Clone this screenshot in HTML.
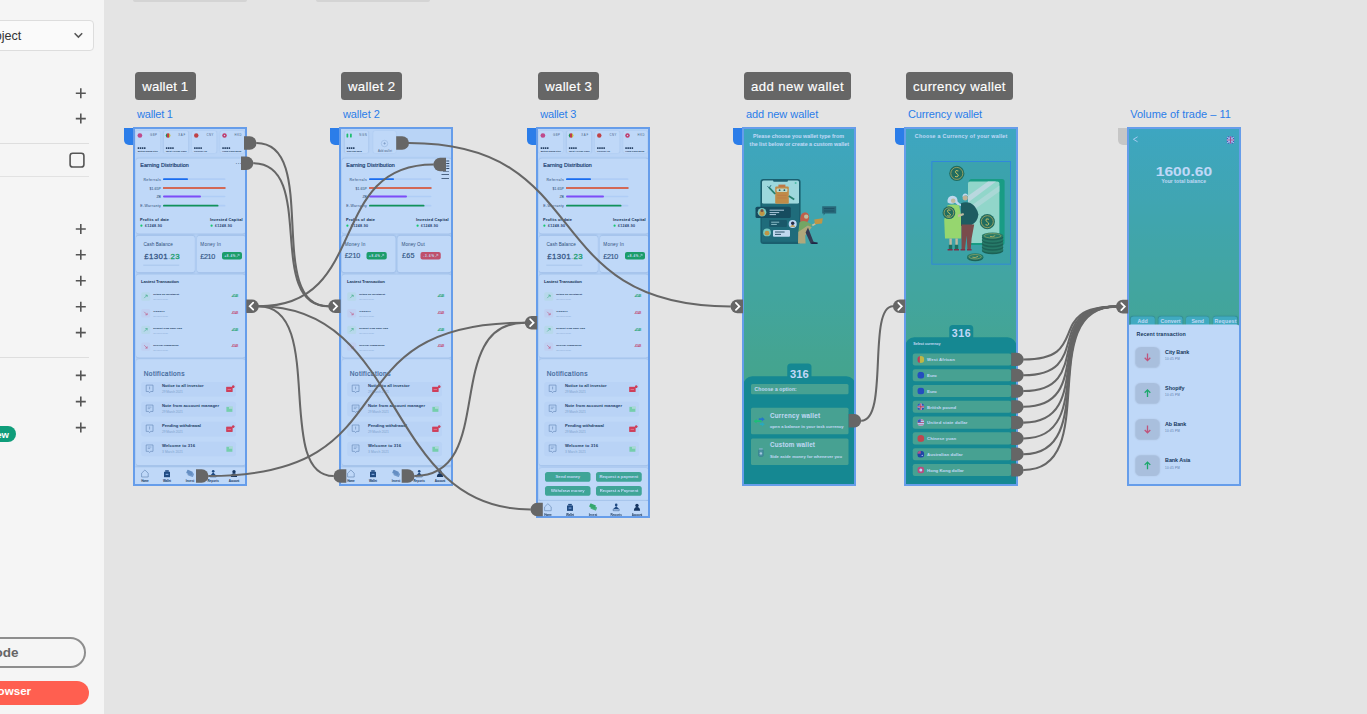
<!DOCTYPE html>
<html><head><meta charset="utf-8"><title>prototype</title>
<style>
html,body{margin:0;padding:0}
body{width:1367px;height:714px;overflow:hidden;position:relative;background:#e4e4e4;
font-family:"Liberation Sans",sans-serif;}
div{box-sizing:border-box}
svg{position:absolute;left:0;top:0;overflow:visible}
</style></head><body>
<div style="position:absolute;left:0px;top:0px;width:104px;height:714px;background:#f5f5f5;"></div>
<div style="position:absolute;left:-20px;top:20px;width:114px;height:31px;background:#fafafa;border:1px solid #dddddd;border-radius:4px;"></div>
<div style="position:absolute;top:29.6px;font-size:12.6px;line-height:12.6px;color:#333;white-space:nowrap;right:1345.7px;">oject</div>
<div style="position:absolute;left:0px;top:143px;width:89px;height:1px;background:#dedede;"></div>
<div style="position:absolute;left:0px;top:176px;width:89px;height:1px;background:#e2e2e2;"></div>
<div style="position:absolute;left:0px;top:357px;width:89px;height:1px;background:#dedede;"></div>
<div style="position:absolute;left:-10px;top:426px;width:26px;height:16px;background:#0f9d7a;border-radius:8px;"></div>
<div style="position:absolute;top:429.85px;font-size:9.5px;line-height:9.5px;color:#fff;white-space:nowrap;font-weight:bold;right:1358px;">ew</div>
<div style="position:absolute;left:-30px;top:637px;width:116px;height:31px;border:2px solid #8e8e8e;border-radius:16px;background:#f5f5f5;"></div>
<div style="position:absolute;top:646.15px;font-size:13.5px;line-height:13.5px;color:#666;white-space:nowrap;font-weight:bold;right:1348.4px;">ode</div>
<div style="position:absolute;left:-30px;top:681px;width:119px;height:24px;background:#ff5f50;border-radius:12px;"></div>
<div style="position:absolute;top:684.7px;font-size:11.6px;line-height:11.6px;color:#fff;white-space:nowrap;font-weight:bold;right:1335.9px;">rowser</div>
<svg width="104" height="714" viewBox="0 0 104 714"><path d="M75.8 93.3h10M80.8 88.3v10" stroke="#555" stroke-width="1.6" fill="none"/><path d="M75.8 118.6h10M80.8 113.6v10" stroke="#555" stroke-width="1.6" fill="none"/><path d="M75.8 229h10M80.8 224v10" stroke="#555" stroke-width="1.6" fill="none"/><path d="M75.8 254.7h10M80.8 249.7v10" stroke="#555" stroke-width="1.6" fill="none"/><path d="M75.8 280.8h10M80.8 275.8v10" stroke="#555" stroke-width="1.6" fill="none"/><path d="M75.8 306.7h10M80.8 301.7v10" stroke="#555" stroke-width="1.6" fill="none"/><path d="M75.8 332.6h10M80.8 327.6v10" stroke="#555" stroke-width="1.6" fill="none"/><path d="M75.8 375.4h10M80.8 370.4v10" stroke="#555" stroke-width="1.6" fill="none"/><path d="M75.8 401.6h10M80.8 396.6v10" stroke="#555" stroke-width="1.6" fill="none"/><path d="M75.8 427.6h10M80.8 422.6v10" stroke="#555" stroke-width="1.6" fill="none"/><path d="M74.6 33.2l3.8 3.9l3.8-3.9" stroke="#555" stroke-width="1.5" fill="none"/><rect x="70.1" y="153.2" width="13.8" height="13.8" rx="2.6" fill="none" stroke="#555" stroke-width="1.6"/></svg>
<div style="position:absolute;left:133px;top:-2px;width:114px;height:3.6px;background:#d4d4d4;border-radius:2px;"></div>
<div style="position:absolute;left:316px;top:-2px;width:114px;height:3.6px;background:#d4d4d4;border-radius:2px;"></div>
<div style="position:absolute;left:135px;top:72px;width:61px;height:28px;background:#666;border-radius:3.5px;"></div>
<div style="position:absolute;top:80.3px;font-size:13.2px;line-height:13.2px;color:#fff;white-space:nowrap;letter-spacing:0.18px;-webkit-text-stroke:0.15px #fff;left:142.2px;">wallet 1</div>
<div style="position:absolute;left:341px;top:72px;width:61px;height:28px;background:#666;border-radius:3.5px;"></div>
<div style="position:absolute;top:80.3px;font-size:13.2px;line-height:13.2px;color:#fff;white-space:nowrap;letter-spacing:0.35px;-webkit-text-stroke:0.15px #fff;left:348px;">wallet 2</div>
<div style="position:absolute;left:537.7px;top:72px;width:61.5px;height:28px;background:#666;border-radius:3.5px;"></div>
<div style="position:absolute;top:80.3px;font-size:13.2px;line-height:13.2px;color:#fff;white-space:nowrap;letter-spacing:0.29px;-webkit-text-stroke:0.15px #fff;left:545.2px;">wallet 3</div>
<div style="position:absolute;left:743.7px;top:72px;width:107.2px;height:28px;background:#666;border-radius:3.5px;"></div>
<div style="position:absolute;top:80.3px;font-size:13.2px;line-height:13.2px;color:#fff;white-space:nowrap;letter-spacing:0.42px;-webkit-text-stroke:0.15px #fff;left:750.9px;">add new wallet</div>
<div style="position:absolute;left:905.9px;top:72px;width:107.2px;height:28px;background:#666;border-radius:3.5px;"></div>
<div style="position:absolute;top:80.3px;font-size:13.2px;line-height:13.2px;color:#fff;white-space:nowrap;letter-spacing:0.32px;-webkit-text-stroke:0.15px #fff;left:913.1px;">currency wallet</div>
<div style="position:absolute;top:109.1px;font-size:11px;line-height:11px;color:#2b7de9;white-space:nowrap;letter-spacing:-0.2px;left:137.1px;">wallet 1</div>
<div style="position:absolute;top:109.1px;font-size:11px;line-height:11px;color:#2b7de9;white-space:nowrap;letter-spacing:-0.06px;left:342.9px;">wallet 2</div>
<div style="position:absolute;top:109.1px;font-size:11px;line-height:11px;color:#2b7de9;white-space:nowrap;letter-spacing:-0.17px;left:540.2px;">wallet 3</div>
<div style="position:absolute;top:109.1px;font-size:11px;line-height:11px;color:#2b7de9;white-space:nowrap;letter-spacing:-0.03px;left:745.9px;">add new wallet</div>
<div style="position:absolute;top:109.1px;font-size:11px;line-height:11px;color:#2b7de9;white-space:nowrap;letter-spacing:-0.11px;left:907.9px;">Currency wallet</div>
<div style="position:absolute;top:109.1px;font-size:11px;line-height:11px;color:#2b7de9;white-space:nowrap;letter-spacing:-0.01px;left:1130.3px;">Volume of trade – 11</div>
<div style="position:absolute;left:124px;top:128px;width:11px;height:16.8px;background:#2b7de9;border-radius:0 0 0 5px;"></div>
<div style="position:absolute;left:133px;top:127px;width:114px;height:359px;overflow:hidden;background:#fff;"><div style="position:absolute;left:0;top:0;width:456px;height:1436px;transform:scale(0.25);transform-origin:0 0;"><div style="position:absolute;left:-532px;top:-508px;width:5468px;height:2856px;"><div style="position:absolute;left:528px;top:504px;width:468px;height:1452px;background:#f6f9fd;"></div>
<div style="position:absolute;left:542.4px;top:524px;width:97.6px;height:88px;background:#fff;border-radius:8px;box-shadow:0 0 6px rgba(80,110,160,.16);"></div>
<div style="position:absolute;left:550.4px;top:532.8px;width:18.4px;height:18.4px;background:#ff3464;border-radius:50%;"></div>
<div style="position:absolute;top:534.8px;font-size:11.2px;line-height:11.2px;color:#555;white-space:nowrap;letter-spacing:2.16px;left:600px;">GBP</div>
<svg width="5468" height="2856" viewBox="0 0 1367 714"><rect x="137.70" y="147.35" width="1.5" height="1.5" fill="#05080f"/><rect x="139.80" y="147.35" width="1.5" height="1.5" fill="#05080f"/><rect x="141.90" y="147.35" width="1.5" height="1.5" fill="#05080f"/><rect x="144.00" y="147.35" width="1.5" height="1.5" fill="#05080f"/></svg>
<div style="position:absolute;top:600.2px;font-size:9.2px;line-height:9.2px;color:#111;white-space:nowrap;font-weight:bold;letter-spacing:-0.04px;left:550.8px;">British pound sterl</div>
<div style="position:absolute;left:655.2px;top:524px;width:97.6px;height:88px;background:#fff;border-radius:8px;box-shadow:0 0 6px rgba(80,110,160,.16);"></div>
<div style="position:absolute;left:663.2px;top:532.8px;width:18.4px;height:18.4px;background:linear-gradient(90deg,#189214 0 36%,#ff2300 36% 66%,#ffda00 66%);border-radius:50%;"></div>
<div style="position:absolute;top:534.8px;font-size:11.2px;line-height:11.2px;color:#555;white-space:nowrap;letter-spacing:3.12px;left:712.8px;">XAF</div>
<svg width="5468" height="2856" viewBox="0 0 1367 714"><rect x="165.90" y="147.35" width="1.5" height="1.5" fill="#05080f"/><rect x="168.00" y="147.35" width="1.5" height="1.5" fill="#05080f"/><rect x="170.10" y="147.35" width="1.5" height="1.5" fill="#05080f"/><rect x="172.20" y="147.35" width="1.5" height="1.5" fill="#05080f"/></svg>
<div style="position:absolute;top:600.2px;font-size:9.2px;line-height:9.2px;color:#111;white-space:nowrap;font-weight:bold;letter-spacing:0.16px;left:663.6px;">West African franc</div>
<div style="position:absolute;left:768px;top:524px;width:97.6px;height:88px;background:#fff;border-radius:8px;box-shadow:0 0 6px rgba(80,110,160,.16);"></div>
<div style="position:absolute;left:776px;top:532.8px;width:18.4px;height:18.4px;background:#ff2900;border-radius:50%;"></div>
<div style="position:absolute;top:534.8px;font-size:11.2px;line-height:11.2px;color:#555;white-space:nowrap;letter-spacing:2.16px;left:825.6px;">CNY</div>
<svg width="5468" height="2856" viewBox="0 0 1367 714"><rect x="194.10" y="147.35" width="1.5" height="1.5" fill="#05080f"/><rect x="196.20" y="147.35" width="1.5" height="1.5" fill="#05080f"/><rect x="198.30" y="147.35" width="1.5" height="1.5" fill="#05080f"/><rect x="200.40" y="147.35" width="1.5" height="1.5" fill="#05080f"/></svg>
<div style="position:absolute;top:600.2px;font-size:9.2px;line-height:9.2px;color:#111;white-space:nowrap;font-weight:bold;letter-spacing:0.28px;left:776.4px;">Chinese yu</div>
<div style="position:absolute;left:880.8px;top:524px;width:97.6px;height:88px;background:#fff;border-radius:8px;box-shadow:0 0 6px rgba(80,110,160,.16);"></div>
<div style="position:absolute;left:888.8px;top:532.8px;width:18.4px;height:18.4px;background:radial-gradient(circle,#fff 0 28%,#ff1d36 32%);border-radius:50%;"></div>
<div style="position:absolute;top:534.8px;font-size:11.2px;line-height:11.2px;color:#555;white-space:nowrap;letter-spacing:2.16px;left:938.4px;">HKD</div>
<svg width="5468" height="2856" viewBox="0 0 1367 714"><rect x="222.30" y="147.35" width="1.5" height="1.5" fill="#05080f"/><rect x="224.40" y="147.35" width="1.5" height="1.5" fill="#05080f"/><rect x="226.50" y="147.35" width="1.5" height="1.5" fill="#05080f"/><rect x="228.60" y="147.35" width="1.5" height="1.5" fill="#05080f"/></svg>
<div style="position:absolute;top:600.2px;font-size:9.2px;line-height:9.2px;color:#111;white-space:nowrap;font-weight:bold;letter-spacing:-0.04px;left:889.2px;">Hong Kong dollar</div>
<div style="position:absolute;left:544px;top:634.4px;width:437.6px;height:299.2px;background:#fff;border-radius:12px;box-shadow:0 0 8px rgba(80,110,160,.28);"></div>
<div style="position:absolute;top:651.2px;font-size:21.6px;line-height:21.6px;color:#1c2a40;white-space:nowrap;letter-spacing:0.28px;-webkit-text-stroke:0.88px #1c2a40;left:561.2px;">Earning Distribution</div>
<div style="position:absolute;top:641px;font-size:18px;line-height:18px;color:#333;white-space:nowrap;font-weight:bold;letter-spacing:3.48px;left:943.2px;">...</div>
<div style="position:absolute;top:710.6px;font-size:14px;line-height:14px;color:#232a36;white-space:nowrap;letter-spacing:1.6px;left:573.6px;">Referrals</div>
<div style="position:absolute;left:652px;top:713px;width:250px;height:6.8px;background:#e9f0fc;border-radius:4px;"></div>
<div style="position:absolute;left:652px;top:712.8px;width:100px;height:7.2px;background:#1366f3;border-radius:4px;"></div>
<div style="position:absolute;top:746.2px;font-size:14px;line-height:14px;color:#232a36;white-space:nowrap;letter-spacing:0.08px;left:598.4px;">$1.65P</div>
<div style="position:absolute;left:652px;top:748.6px;width:250px;height:6.8px;background:#e9f0fc;border-radius:4px;"></div>
<div style="position:absolute;left:652px;top:748.4px;width:250px;height:7.2px;background:#ff5609;border-radius:4px;"></div>
<div style="position:absolute;top:780.2px;font-size:14px;line-height:14px;color:#232a36;white-space:nowrap;letter-spacing:-1.08px;left:626.4px;">ZB</div>
<div style="position:absolute;left:652px;top:782.6px;width:250px;height:6.8px;background:#e9f0fc;border-radius:4px;"></div>
<div style="position:absolute;left:652px;top:782.4px;width:152px;height:7.2px;background:#9f38ff;border-radius:4px;"></div>
<div style="position:absolute;top:816.6px;font-size:14px;line-height:14px;color:#232a36;white-space:nowrap;letter-spacing:1.32px;left:561.2px;">E-Warranty</div>
<div style="position:absolute;left:652px;top:819px;width:250px;height:6.8px;background:#e9f0fc;border-radius:4px;"></div>
<div style="position:absolute;left:652px;top:818.8px;width:222px;height:7.2px;background:#079b1e;border-radius:4px;"></div>
<div style="position:absolute;top:872.2px;font-size:15.6px;line-height:15.6px;color:#000;white-space:nowrap;font-weight:bold;letter-spacing:0.8px;left:560px;">Profits of date</div>
<svg width="5468" height="2856" viewBox="0 0 1367 714"><circle cx="141.4" cy="225.7" r="1.1" fill="#0de83c"/></svg>
<div style="position:absolute;top:896.8px;font-size:14.4px;line-height:14.4px;color:#1c2430;white-space:nowrap;font-weight:bold;letter-spacing:1.12px;left:580px;">£1248.90</div>
<div style="position:absolute;top:872.2px;font-size:15.6px;line-height:15.6px;color:#000;white-space:nowrap;font-weight:bold;letter-spacing:0.72px;left:840px;">Invested Capital</div>
<svg width="5468" height="2856" viewBox="0 0 1367 714"><circle cx="211.6" cy="225.7" r="1.1" fill="#0de83c"/></svg>
<div style="position:absolute;top:896.8px;font-size:14.4px;line-height:14.4px;color:#1c2430;white-space:nowrap;font-weight:bold;letter-spacing:1.12px;left:860px;">£1248.90</div>
<div style="position:absolute;left:544px;top:942.8px;width:235.2px;height:146.4px;background:#fff;border-radius:12px;box-shadow:0 0 8px rgba(80,110,160,.28);"></div>
<div style="position:absolute;left:788px;top:942.8px;width:193.6px;height:146.4px;background:#fff;border-radius:12px;box-shadow:0 0 8px rgba(80,110,160,.28);"></div>
<div style="position:absolute;top:969px;font-size:18.8px;line-height:18.8px;color:#343c4a;white-space:nowrap;letter-spacing:0.04px;left:573.6px;">Cash Balance</div>
<div style="position:absolute;left:577.2px;top:1006.8px;font-size:31.6px;line-height:36px;white-space:nowrap;color:#3a4659;letter-spacing:1.36px;-webkit-text-stroke:1.12px #3a4659;">£1301<span style="color:#7f8a9b;-webkit-text-stroke:0">.</span><span style="color:#16ab34;-webkit-text-stroke:1.2px #16ab34;">23</span></div>
<div style="position:absolute;left:572.8px;top:1059.2px;width:144px;height:3.2px;background:#d4dbe8;"></div>
<div style="position:absolute;top:969px;font-size:18.8px;line-height:18.8px;color:#343c4a;white-space:nowrap;letter-spacing:0.68px;left:801.2px;">Money In</div>
<div style="position:absolute;top:1009.6px;font-size:28.8px;line-height:28.8px;color:#333f52;white-space:nowrap;letter-spacing:-1.48px;-webkit-text-stroke:0.6px #333f52;left:801.2px;">£210</div>
<div style="position:absolute;left:887.6px;top:1008.4px;width:80.8px;height:29.2px;background:#16ab34;border-radius:8px;"></div>
<div style="position:absolute;top:1018.4px;font-size:12px;line-height:12px;color:#fff;white-space:nowrap;font-weight:bold;letter-spacing:2.32px;left:898px;">+8.4%</div>
<svg width="5468" height="2856" viewBox="0 0 1367 714"><path d="M236.5 257.2l2.6-2.8m-1.6 0h1.6v1.6" stroke="#fff" stroke-width=".5" fill="none"/></svg>
<div style="position:absolute;left:544px;top:1098.4px;width:437.6px;height:331.2px;background:#fff;border-radius:12px;box-shadow:0 0 8px rgba(80,110,160,.28);"></div>
<div style="position:absolute;top:1118.6px;font-size:17.2px;line-height:17.2px;color:#111;white-space:nowrap;font-weight:bold;letter-spacing:-0.52px;left:563.6px;">Lastest Transaction</div>
<div style="position:absolute;left:564.8px;top:1169.2px;width:36px;height:33.6px;background:#f4ffed;border-radius:6.4px;"></div>
<div style="position:absolute;top:1173.2px;font-size:9.6px;line-height:9.6px;color:#000;white-space:nowrap;font-weight:bold;letter-spacing:0.24px;left:612.8px;">Return on investment</div>
<div style="position:absolute;top:1194.4px;font-size:8.8px;line-height:8.8px;color:#b9c2d0;white-space:nowrap;letter-spacing:0px;left:612.8px;">25 March 2021</div>
<div style="position:absolute;top:1178.8px;font-size:12px;line-height:12px;color:#0daf2b;white-space:nowrap;letter-spacing:-1.72px;-webkit-text-stroke:0.32px #0daf2b;left:925.6px;">+£148</div>
<div style="position:absolute;left:564.8px;top:1236px;width:36px;height:33.6px;background:#fff4f6;border-radius:6.4px;"></div>
<div style="position:absolute;top:1240px;font-size:9.6px;line-height:9.6px;color:#000;white-space:nowrap;font-weight:bold;letter-spacing:1.16px;left:612.8px;">Transfer</div>
<div style="position:absolute;top:1261.2px;font-size:8.8px;line-height:8.8px;color:#b9c2d0;white-space:nowrap;letter-spacing:0px;left:612.8px;">25 March 2021</div>
<div style="position:absolute;top:1245.6px;font-size:12px;line-height:12px;color:#ff1228;white-space:nowrap;letter-spacing:-0.96px;-webkit-text-stroke:0.32px #ff1228;left:925.6px;">-£148</div>
<div style="position:absolute;left:564.8px;top:1302.8px;width:36px;height:33.6px;background:#f4ffed;border-radius:6.4px;"></div>
<div style="position:absolute;top:1306.8px;font-size:9.6px;line-height:9.6px;color:#000;white-space:nowrap;font-weight:bold;letter-spacing:0.4px;left:612.8px;">Deposit from bank card</div>
<div style="position:absolute;top:1328px;font-size:8.8px;line-height:8.8px;color:#b9c2d0;white-space:nowrap;letter-spacing:0px;left:612.8px;">25 March 2021</div>
<div style="position:absolute;top:1312.4px;font-size:12px;line-height:12px;color:#0daf2b;white-space:nowrap;letter-spacing:-1.72px;-webkit-text-stroke:0.32px #0daf2b;left:925.6px;">+£148</div>
<div style="position:absolute;left:564.8px;top:1369.6px;width:36px;height:33.6px;background:#fff4f6;border-radius:6.4px;"></div>
<div style="position:absolute;top:1373.6px;font-size:9.6px;line-height:9.6px;color:#000;white-space:nowrap;font-weight:bold;letter-spacing:0.36px;left:612.8px;">Referral commission</div>
<div style="position:absolute;top:1394.8px;font-size:8.8px;line-height:8.8px;color:#b9c2d0;white-space:nowrap;letter-spacing:0px;left:612.8px;">25 March 2021</div>
<div style="position:absolute;top:1379.2px;font-size:12px;line-height:12px;color:#ff1228;white-space:nowrap;letter-spacing:-0.96px;-webkit-text-stroke:0.32px #ff1228;left:925.6px;">-£148</div>
<svg width="5468" height="2856" viewBox="0 0 1367 714"><path d="M144.2 298.1l3-3m-1.9 0h1.9v1.9" stroke="#0daf2b" stroke-width=".45" fill="none"/><path d="M144.2 311.8l3 3m-1.9 0h1.9v-1.9" stroke="#ff1228" stroke-width=".45" fill="none"/><path d="M144.2 331.5l3-3m-1.9 0h1.9v1.9" stroke="#0daf2b" stroke-width=".45" fill="none"/><path d="M144.2 345.2l3 3m-1.9 0h1.9v-1.9" stroke="#ff1228" stroke-width=".45" fill="none"/></svg>
<div style="position:absolute;left:544px;top:1436.8px;width:437.6px;height:424px;background:#fff;border-radius:12px;box-shadow:0 0 8px rgba(80,110,160,.28);"></div>
<div style="position:absolute;top:1480.6px;font-size:26px;line-height:26px;color:#4e5f7a;white-space:nowrap;letter-spacing:1.76px;-webkit-text-stroke:0.88px #4e5f7a;left:574.8px;">Notifications</div>
<div style="position:absolute;left:564.8px;top:1527.6px;width:378.8px;height:58.4px;background:#f6f8fc;border-radius:10px;"></div>
<div style="position:absolute;top:1535.6px;font-size:16.8px;line-height:16.8px;color:#151b26;white-space:nowrap;font-weight:bold;letter-spacing:0.08px;left:647.6px;">Notice to all investor</div>
<div style="position:absolute;top:1561px;font-size:13.2px;line-height:13.2px;color:#a7b2c3;white-space:nowrap;letter-spacing:-0.36px;left:648px;">29 March 2021</div>
<div style="position:absolute;left:564.8px;top:1607.4px;width:378.8px;height:58.4px;background:#f6f8fc;border-radius:10px;"></div>
<div style="position:absolute;top:1615.4px;font-size:16.8px;line-height:16.8px;color:#151b26;white-space:nowrap;font-weight:bold;letter-spacing:0.24px;left:647.6px;">Note from account manager</div>
<div style="position:absolute;top:1640.8px;font-size:13.2px;line-height:13.2px;color:#a7b2c3;white-space:nowrap;letter-spacing:-0.36px;left:648px;">29 March 2021</div>
<div style="position:absolute;left:564.8px;top:1687.2px;width:378.8px;height:58.4px;background:#f6f8fc;border-radius:10px;"></div>
<div style="position:absolute;top:1695.2px;font-size:16.8px;line-height:16.8px;color:#151b26;white-space:nowrap;font-weight:bold;letter-spacing:-0.08px;left:647.6px;">Pending withdrawal</div>
<div style="position:absolute;top:1720.6px;font-size:13.2px;line-height:13.2px;color:#a7b2c3;white-space:nowrap;letter-spacing:-0.36px;left:648px;">29 March 2021</div>
<div style="position:absolute;left:564.8px;top:1767px;width:378.8px;height:58.4px;background:#f6f8fc;border-radius:10px;"></div>
<div style="position:absolute;top:1775px;font-size:16.8px;line-height:16.8px;color:#151b26;white-space:nowrap;font-weight:bold;letter-spacing:0.44px;left:647.6px;">Welcome to 316</div>
<div style="position:absolute;top:1800.4px;font-size:13.2px;line-height:13.2px;color:#a7b2c3;white-space:nowrap;letter-spacing:0.28px;left:648px;">3 March 2021</div>
<svg width="5468" height="2856" viewBox="0 0 1367 714"><path d="M146.2 385.1h6.8v6.4h-2.4l-1 1.2l-1-1.2h-2.4z" stroke="#7787a0" stroke-width=".6" fill="none"/><path d="M149.6 386.6v2.4M149.6 389.6v.5" stroke="#7787a0" stroke-width=".6" fill="none"/><path d="M226.4 386.9h6v5h-6z" fill="#ff231d"/><circle cx="233.2" cy="386.7" r="1.2" fill="#ff231d"/><path d="M146.2 405.05h6.8v6.4h-2.4l-1 1.2l-1-1.2h-2.4z" stroke="#7787a0" stroke-width=".6" fill="none"/><path d="M147.8 407.15h3.6M147.8 408.65h2.4" stroke="#7787a0" stroke-width=".5" fill="none"/><path d="M226.4 406.85h6v5h-6z" fill="#96f192"/><path d="M229 406.45h4v2.4h-4z" fill="#e0ffcf"/><path d="M146.2 425h6.8v6.4h-2.4l-1 1.2l-1-1.2h-2.4z" stroke="#7787a0" stroke-width=".6" fill="none"/><path d="M149.6 426.5v2.4M149.6 429.5v.5" stroke="#7787a0" stroke-width=".6" fill="none"/><path d="M226.4 426.8h6v5h-6z" fill="#ff231d"/><circle cx="233.2" cy="426.6" r="1.2" fill="#ff231d"/><path d="M146.2 444.95h6.8v6.4h-2.4l-1 1.2l-1-1.2h-2.4z" stroke="#7787a0" stroke-width=".6" fill="none"/><path d="M147.8 447.05h3.6M147.8 448.55h2.4" stroke="#7787a0" stroke-width=".5" fill="none"/><path d="M226.4 446.75h6v5h-6z" fill="#96f192"/><path d="M229 446.35h4v2.4h-4z" fill="#e0ffcf"/></svg>
<div style="position:absolute;left:536px;top:1868.8px;width:452px;height:74px;background:#fff;box-shadow:0 0 8px rgba(80,110,160,.3);"></div>
<div style="position:absolute;top:1917.2px;font-size:12px;line-height:12px;color:#10161f;white-space:nowrap;font-weight:bold;letter-spacing:-1.24px;left:564.8px;">Home</div>
<div style="position:absolute;top:1917.2px;font-size:12px;line-height:12px;color:#10161f;white-space:nowrap;font-weight:bold;letter-spacing:-0.4px;left:651.6px;">Wallet</div>
<div style="position:absolute;top:1917.2px;font-size:12px;line-height:12px;color:#10161f;white-space:nowrap;font-weight:bold;letter-spacing:-0.04px;left:742.8px;">Invest</div>
<div style="position:absolute;top:1917.2px;font-size:12px;line-height:12px;color:#10161f;white-space:nowrap;font-weight:bold;letter-spacing:0.16px;left:829.6px;">Reports</div>
<div style="position:absolute;top:1917.2px;font-size:12px;line-height:12px;color:#10161f;white-space:nowrap;font-weight:bold;letter-spacing:-0.92px;left:914.8px;">Account</div>
<svg width="5468" height="2856" viewBox="0 0 1367 714"><path d="M141.6 473.2l3.3-3.2l3.3 3.2v3.8h-6.6z" stroke="#6f7f96" stroke-width=".6" fill="none"/><path d="M164 471.8h6v5.4h-6z" fill="#1c3557"/><path d="M165.2 470.2h3.6v1.6h-3.6z" fill="#1c3557"/><path d="M165.6 473.8h2.8v1.2h-2.8z" fill="#9db4d6"/><rect x="186" y="470.5" width="6" height="3.6" rx=".6" fill="#7f97b4" transform="rotate(22 189 473.8)"/><rect x="188" y="472.6" width="6" height="3.6" rx=".6" fill="#7f97b4" opacity=".85" transform="rotate(22 191 473.8)"/><circle cx="213.2" cy="471.2" r="1.3" fill="#1c3557"/><path d="M210.4 475.4l2.8-3.2l2.8 3.2z" fill="#1c3557"/><path d="M210.2 475.4h6v1.6h-6z" fill="none" stroke="#1c3557" stroke-width=".5"/><circle cx="234" cy="471.8" r="1.7" fill="#0d1626"/><path d="M230.9 477.1q0-3.8 3.1-3.8q3.1 0 3.1 3.8z" fill="#0d1626"/></svg></div></div><div style="position:absolute;left:0;top:0;width:114px;height:359px;background:rgba(43,125,233,0.30);"></div><div style="position:absolute;left:0;top:0;width:456px;height:1436px;transform:scale(0.25);transform-origin:0 0;"><div style="position:absolute;left:-532px;top:-508px;width:5468px;height:2856px;"><div style="position:absolute;left:652px;top:748.4px;width:250px;height:7.2px;background:rgb(211,105,86);border-radius:4px;"></div>
<svg width="5468" height="2856" viewBox="0 0 1367 714"><path d="M226.4 386.9h6v5h-6z" fill="rgb(208,62,90)"/><circle cx="233.2" cy="386.7" r="1.2" fill="rgb(208,62,90)"/><path d="M227.6 389.5h3.400" stroke="rgb(232,150,170)" stroke-width=".6"/></svg>
<svg width="5468" height="2856" viewBox="0 0 1367 714"><path d="M226.4 426.8h6v5h-6z" fill="rgb(208,62,90)"/><circle cx="233.2" cy="426.6" r="1.2" fill="rgb(208,62,90)"/><path d="M227.6 429.4h3.400" stroke="rgb(232,150,170)" stroke-width=".6"/></svg></div></div><div style="position:absolute;left:0;top:0;width:114px;height:359px;border:2px solid #669dea;"></div></div>
<div style="position:absolute;left:330px;top:128px;width:11px;height:16.8px;background:#2b7de9;border-radius:0 0 0 5px;"></div>
<div style="position:absolute;left:339px;top:127px;width:114px;height:359px;overflow:hidden;background:#fff;"><div style="position:absolute;left:0;top:0;width:456px;height:1436px;transform:scale(0.25);transform-origin:0 0;"><div style="position:absolute;left:-532px;top:-508px;width:5468px;height:2856px;"><div style="position:absolute;left:528px;top:504px;width:468px;height:1452px;background:#f6f9fd;"></div>
<div style="position:absolute;left:555.2px;top:524px;width:93.6px;height:88px;background:#fff;border-radius:8px;box-shadow:0 0 6px rgba(80,110,160,.16);"></div>
<div style="position:absolute;left:669.2px;top:524px;width:90.4px;height:88px;background:#fff;border-radius:8px;box-shadow:0 0 6px rgba(80,110,160,.16);"></div>
<div style="position:absolute;left:562px;top:533.6px;width:6.8px;height:16.8px;background:#16da39;border-radius:4px;"></div>
<div style="position:absolute;left:576px;top:533.6px;width:6.8px;height:16.8px;background:#16da39;border-radius:4px;"></div>
<div style="position:absolute;top:534.8px;font-size:11.2px;line-height:11.2px;color:#555;white-space:nowrap;letter-spacing:2.36px;left:613.2px;">NGN</div>
<svg width="5468" height="2856" viewBox="0 0 1367 714"><rect x="140.70" y="147.35" width="1.5" height="1.5" fill="#05080f"/><rect x="142.80" y="147.35" width="1.5" height="1.5" fill="#05080f"/><rect x="144.90" y="147.35" width="1.5" height="1.5" fill="#05080f"/><rect x="147.00" y="147.35" width="1.5" height="1.5" fill="#05080f"/></svg>
<div style="position:absolute;top:600.2px;font-size:9.2px;line-height:9.2px;color:#111;white-space:nowrap;font-weight:bold;letter-spacing:-0.04px;left:562.8px;">Nigerian naira</div>
<div style="position:absolute;left:700.4px;top:559.6px;width:28px;height:28px;border:2px solid #b9c4d4;border-radius:50%;"></div>
<svg width="5468" height="2856" viewBox="0 0 1367 714"><path d="M177.3 143.4h2.6M178.6 142.1v2.6" stroke="#7f8da3" stroke-width=".5"/></svg>
<div style="position:absolute;top:597.2px;font-size:11.2px;line-height:11.2px;color:#555;white-space:nowrap;letter-spacing:0.48px;left:688px;">Add wallet</div>
<div style="position:absolute;left:544px;top:634.4px;width:437.6px;height:299.2px;background:#fff;border-radius:12px;box-shadow:0 0 8px rgba(80,110,160,.28);"></div>
<div style="position:absolute;top:651.2px;font-size:21.6px;line-height:21.6px;color:#1c2a40;white-space:nowrap;letter-spacing:0.28px;-webkit-text-stroke:0.88px #1c2a40;left:561.2px;">Earning Distribution</div>
<div style="position:absolute;left:948.4px;top:684.6px;width:23.2px;height:2.8px;background:#222;"></div>
<div style="position:absolute;left:942.4px;top:695.8px;width:29.2px;height:2.8px;background:#222;"></div>
<div style="position:absolute;left:942.4px;top:712.2px;width:29.2px;height:2.8px;background:#222;"></div>
<div style="position:absolute;left:960.8px;top:642px;width:12px;height:3.6px;background:#333;"></div>
<div style="position:absolute;left:960.8px;top:652px;width:12px;height:3.6px;background:#333;"></div>
<div style="position:absolute;left:960.8px;top:662px;width:12px;height:3.6px;background:#333;"></div>
<div style="position:absolute;left:960.8px;top:672px;width:12px;height:3.6px;background:#333;"></div>
<div style="position:absolute;top:710.6px;font-size:14px;line-height:14px;color:#232a36;white-space:nowrap;letter-spacing:1.6px;left:573.6px;">Referrals</div>
<div style="position:absolute;left:652px;top:713px;width:250px;height:6.8px;background:#e9f0fc;border-radius:4px;"></div>
<div style="position:absolute;left:652px;top:712.8px;width:100px;height:7.2px;background:#1366f3;border-radius:4px;"></div>
<div style="position:absolute;top:746.2px;font-size:14px;line-height:14px;color:#232a36;white-space:nowrap;letter-spacing:0.08px;left:598.4px;">$1.65P</div>
<div style="position:absolute;left:652px;top:748.6px;width:250px;height:6.8px;background:#e9f0fc;border-radius:4px;"></div>
<div style="position:absolute;left:652px;top:748.4px;width:250px;height:7.2px;background:#ff5609;border-radius:4px;"></div>
<div style="position:absolute;top:780.2px;font-size:14px;line-height:14px;color:#232a36;white-space:nowrap;letter-spacing:-1.08px;left:626.4px;">ZB</div>
<div style="position:absolute;left:652px;top:782.6px;width:250px;height:6.8px;background:#e9f0fc;border-radius:4px;"></div>
<div style="position:absolute;left:652px;top:782.4px;width:152px;height:7.2px;background:#9f38ff;border-radius:4px;"></div>
<div style="position:absolute;top:816.6px;font-size:14px;line-height:14px;color:#232a36;white-space:nowrap;letter-spacing:1.32px;left:561.2px;">E-Warranty</div>
<div style="position:absolute;left:652px;top:819px;width:250px;height:6.8px;background:#e9f0fc;border-radius:4px;"></div>
<div style="position:absolute;left:652px;top:818.8px;width:222px;height:7.2px;background:#079b1e;border-radius:4px;"></div>
<div style="position:absolute;top:872.2px;font-size:15.6px;line-height:15.6px;color:#000;white-space:nowrap;font-weight:bold;letter-spacing:0.8px;left:560px;">Profits of date</div>
<svg width="5468" height="2856" viewBox="0 0 1367 714"><circle cx="141.4" cy="225.7" r="1.1" fill="#0de83c"/></svg>
<div style="position:absolute;top:896.8px;font-size:14.4px;line-height:14.4px;color:#1c2430;white-space:nowrap;font-weight:bold;letter-spacing:1.12px;left:580px;">£1248.90</div>
<div style="position:absolute;top:872.2px;font-size:15.6px;line-height:15.6px;color:#000;white-space:nowrap;font-weight:bold;letter-spacing:0.72px;left:840px;">Invested Capital</div>
<svg width="5468" height="2856" viewBox="0 0 1367 714"><circle cx="211.6" cy="225.7" r="1.1" fill="#0de83c"/></svg>
<div style="position:absolute;top:896.8px;font-size:14.4px;line-height:14.4px;color:#1c2430;white-space:nowrap;font-weight:bold;letter-spacing:1.12px;left:860px;">£1248.90</div>
<div style="position:absolute;left:543.2px;top:942.8px;width:214.4px;height:146.4px;background:#fff;border-radius:12px;box-shadow:0 0 8px rgba(80,110,160,.28);"></div>
<div style="position:absolute;left:766.4px;top:942.8px;width:214.4px;height:146.4px;background:#fff;border-radius:12px;box-shadow:0 0 8px rgba(80,110,160,.28);"></div>
<div style="position:absolute;top:968.6px;font-size:18.8px;line-height:18.8px;color:#343c4a;white-space:nowrap;letter-spacing:0.72px;left:554.8px;">Money In</div>
<div style="position:absolute;top:1009.2px;font-size:28.8px;line-height:28.8px;color:#333f52;white-space:nowrap;letter-spacing:-0.56px;-webkit-text-stroke:0.6px #333f52;left:554.8px;">£210</div>
<div style="position:absolute;left:642px;top:1008.4px;width:80.8px;height:29.2px;background:#16ab34;border-radius:8px;"></div>
<div style="position:absolute;top:1018.4px;font-size:12px;line-height:12px;color:#fff;white-space:nowrap;font-weight:bold;letter-spacing:2.32px;left:652.4px;">+8.4%</div>
<svg width="5468" height="2856" viewBox="0 0 1367 714"><path d="M175.1 257.2l2.6-2.8m-1.6 0h1.6v1.6" stroke="#fff" stroke-width=".5" fill="none"/></svg>
<div style="position:absolute;top:968.6px;font-size:18.8px;line-height:18.8px;color:#343c4a;white-space:nowrap;letter-spacing:0.12px;left:782px;">Money Out</div>
<div style="position:absolute;top:1009.2px;font-size:28.8px;line-height:28.8px;color:#333f52;white-space:nowrap;letter-spacing:0.76px;-webkit-text-stroke:0.6px #333f52;left:784px;">£65</div>
<div style="position:absolute;left:858.4px;top:1008.4px;width:80.8px;height:29.2px;background:#ff3d39;border-radius:8px;"></div>
<div style="position:absolute;top:1018.4px;font-size:12px;line-height:12px;color:#fff;white-space:nowrap;font-weight:bold;letter-spacing:3.08px;left:868.8px;">-3.6%</div>
<svg width="5468" height="2856" viewBox="0 0 1367 714"><path d="M229.2 257.2l2.6-2.8m-1.6 0h1.6v1.6" stroke="#fff" stroke-width=".5" fill="none"/></svg>
<div style="position:absolute;left:544px;top:1098.4px;width:437.6px;height:331.2px;background:#fff;border-radius:12px;box-shadow:0 0 8px rgba(80,110,160,.28);"></div>
<div style="position:absolute;top:1118.6px;font-size:17.2px;line-height:17.2px;color:#111;white-space:nowrap;font-weight:bold;letter-spacing:-0.52px;left:563.6px;">Lastest Transaction</div>
<div style="position:absolute;left:564.8px;top:1169.2px;width:36px;height:33.6px;background:#f4ffed;border-radius:6.4px;"></div>
<div style="position:absolute;top:1173.2px;font-size:9.6px;line-height:9.6px;color:#000;white-space:nowrap;font-weight:bold;letter-spacing:0.24px;left:612.8px;">Return on investment</div>
<div style="position:absolute;top:1194.4px;font-size:8.8px;line-height:8.8px;color:#b9c2d0;white-space:nowrap;letter-spacing:0px;left:612.8px;">25 March 2021</div>
<div style="position:absolute;top:1178.8px;font-size:12px;line-height:12px;color:#0daf2b;white-space:nowrap;letter-spacing:-1.72px;-webkit-text-stroke:0.32px #0daf2b;left:925.6px;">+£148</div>
<div style="position:absolute;left:564.8px;top:1236px;width:36px;height:33.6px;background:#fff4f6;border-radius:6.4px;"></div>
<div style="position:absolute;top:1240px;font-size:9.6px;line-height:9.6px;color:#000;white-space:nowrap;font-weight:bold;letter-spacing:1.16px;left:612.8px;">Transfer</div>
<div style="position:absolute;top:1261.2px;font-size:8.8px;line-height:8.8px;color:#b9c2d0;white-space:nowrap;letter-spacing:0px;left:612.8px;">25 March 2021</div>
<div style="position:absolute;top:1245.6px;font-size:12px;line-height:12px;color:#ff1228;white-space:nowrap;letter-spacing:-0.96px;-webkit-text-stroke:0.32px #ff1228;left:925.6px;">-£148</div>
<div style="position:absolute;left:564.8px;top:1302.8px;width:36px;height:33.6px;background:#f4ffed;border-radius:6.4px;"></div>
<div style="position:absolute;top:1306.8px;font-size:9.6px;line-height:9.6px;color:#000;white-space:nowrap;font-weight:bold;letter-spacing:0.4px;left:612.8px;">Deposit from bank card</div>
<div style="position:absolute;top:1328px;font-size:8.8px;line-height:8.8px;color:#b9c2d0;white-space:nowrap;letter-spacing:0px;left:612.8px;">25 March 2021</div>
<div style="position:absolute;top:1312.4px;font-size:12px;line-height:12px;color:#0daf2b;white-space:nowrap;letter-spacing:-1.72px;-webkit-text-stroke:0.32px #0daf2b;left:925.6px;">+£148</div>
<div style="position:absolute;left:564.8px;top:1369.6px;width:36px;height:33.6px;background:#fff4f6;border-radius:6.4px;"></div>
<div style="position:absolute;top:1373.6px;font-size:9.6px;line-height:9.6px;color:#000;white-space:nowrap;font-weight:bold;letter-spacing:0.36px;left:612.8px;">Referral commission</div>
<div style="position:absolute;top:1394.8px;font-size:8.8px;line-height:8.8px;color:#b9c2d0;white-space:nowrap;letter-spacing:0px;left:612.8px;">25 March 2021</div>
<div style="position:absolute;top:1379.2px;font-size:12px;line-height:12px;color:#ff1228;white-space:nowrap;letter-spacing:-0.96px;-webkit-text-stroke:0.32px #ff1228;left:925.6px;">-£148</div>
<svg width="5468" height="2856" viewBox="0 0 1367 714"><path d="M144.2 298.1l3-3m-1.9 0h1.9v1.9" stroke="#0daf2b" stroke-width=".45" fill="none"/><path d="M144.2 311.8l3 3m-1.9 0h1.9v-1.9" stroke="#ff1228" stroke-width=".45" fill="none"/><path d="M144.2 331.5l3-3m-1.9 0h1.9v1.9" stroke="#0daf2b" stroke-width=".45" fill="none"/><path d="M144.2 345.2l3 3m-1.9 0h1.9v-1.9" stroke="#ff1228" stroke-width=".45" fill="none"/></svg>
<div style="position:absolute;left:544px;top:1436.8px;width:437.6px;height:424px;background:#fff;border-radius:12px;box-shadow:0 0 8px rgba(80,110,160,.28);"></div>
<div style="position:absolute;top:1480.6px;font-size:26px;line-height:26px;color:#4e5f7a;white-space:nowrap;letter-spacing:1.76px;-webkit-text-stroke:0.88px #4e5f7a;left:574.8px;">Notifications</div>
<div style="position:absolute;left:564.8px;top:1527.6px;width:378.8px;height:58.4px;background:#f6f8fc;border-radius:10px;"></div>
<div style="position:absolute;top:1535.6px;font-size:16.8px;line-height:16.8px;color:#151b26;white-space:nowrap;font-weight:bold;letter-spacing:0.08px;left:647.6px;">Notice to all investor</div>
<div style="position:absolute;top:1561px;font-size:13.2px;line-height:13.2px;color:#a7b2c3;white-space:nowrap;letter-spacing:-0.36px;left:648px;">29 March 2021</div>
<div style="position:absolute;left:564.8px;top:1607.4px;width:378.8px;height:58.4px;background:#f6f8fc;border-radius:10px;"></div>
<div style="position:absolute;top:1615.4px;font-size:16.8px;line-height:16.8px;color:#151b26;white-space:nowrap;font-weight:bold;letter-spacing:0.24px;left:647.6px;">Note from account manager</div>
<div style="position:absolute;top:1640.8px;font-size:13.2px;line-height:13.2px;color:#a7b2c3;white-space:nowrap;letter-spacing:-0.36px;left:648px;">29 March 2021</div>
<div style="position:absolute;left:564.8px;top:1687.2px;width:378.8px;height:58.4px;background:#f6f8fc;border-radius:10px;"></div>
<div style="position:absolute;top:1695.2px;font-size:16.8px;line-height:16.8px;color:#151b26;white-space:nowrap;font-weight:bold;letter-spacing:-0.08px;left:647.6px;">Pending withdrawal</div>
<div style="position:absolute;top:1720.6px;font-size:13.2px;line-height:13.2px;color:#a7b2c3;white-space:nowrap;letter-spacing:-0.36px;left:648px;">29 March 2021</div>
<div style="position:absolute;left:564.8px;top:1767px;width:378.8px;height:58.4px;background:#f6f8fc;border-radius:10px;"></div>
<div style="position:absolute;top:1775px;font-size:16.8px;line-height:16.8px;color:#151b26;white-space:nowrap;font-weight:bold;letter-spacing:0.44px;left:647.6px;">Welcome to 316</div>
<div style="position:absolute;top:1800.4px;font-size:13.2px;line-height:13.2px;color:#a7b2c3;white-space:nowrap;letter-spacing:0.28px;left:648px;">3 March 2021</div>
<svg width="5468" height="2856" viewBox="0 0 1367 714"><path d="M146.2 385.1h6.8v6.4h-2.4l-1 1.2l-1-1.2h-2.4z" stroke="#7787a0" stroke-width=".6" fill="none"/><path d="M149.6 386.6v2.4M149.6 389.6v.5" stroke="#7787a0" stroke-width=".6" fill="none"/><path d="M226.4 386.9h6v5h-6z" fill="#ff231d"/><circle cx="233.2" cy="386.7" r="1.2" fill="#ff231d"/><path d="M146.2 405.05h6.8v6.4h-2.4l-1 1.2l-1-1.2h-2.4z" stroke="#7787a0" stroke-width=".6" fill="none"/><path d="M147.8 407.15h3.6M147.8 408.65h2.4" stroke="#7787a0" stroke-width=".5" fill="none"/><path d="M226.4 406.85h6v5h-6z" fill="#96f192"/><path d="M229 406.45h4v2.4h-4z" fill="#e0ffcf"/><path d="M146.2 425h6.8v6.4h-2.4l-1 1.2l-1-1.2h-2.4z" stroke="#7787a0" stroke-width=".6" fill="none"/><path d="M149.6 426.5v2.4M149.6 429.5v.5" stroke="#7787a0" stroke-width=".6" fill="none"/><path d="M226.4 426.8h6v5h-6z" fill="#ff231d"/><circle cx="233.2" cy="426.6" r="1.2" fill="#ff231d"/><path d="M146.2 444.95h6.8v6.4h-2.4l-1 1.2l-1-1.2h-2.4z" stroke="#7787a0" stroke-width=".6" fill="none"/><path d="M147.8 447.05h3.6M147.8 448.55h2.4" stroke="#7787a0" stroke-width=".5" fill="none"/><path d="M226.4 446.75h6v5h-6z" fill="#96f192"/><path d="M229 446.35h4v2.4h-4z" fill="#e0ffcf"/></svg>
<div style="position:absolute;left:536px;top:1868.8px;width:452px;height:74px;background:#fff;box-shadow:0 0 8px rgba(80,110,160,.3);"></div>
<div style="position:absolute;top:1917.2px;font-size:12px;line-height:12px;color:#10161f;white-space:nowrap;font-weight:bold;letter-spacing:-1.24px;left:564.8px;">Home</div>
<div style="position:absolute;top:1917.2px;font-size:12px;line-height:12px;color:#10161f;white-space:nowrap;font-weight:bold;letter-spacing:-0.4px;left:651.6px;">Wallet</div>
<div style="position:absolute;top:1917.2px;font-size:12px;line-height:12px;color:#10161f;white-space:nowrap;font-weight:bold;letter-spacing:-0.04px;left:742.8px;">Invest</div>
<div style="position:absolute;top:1917.2px;font-size:12px;line-height:12px;color:#10161f;white-space:nowrap;font-weight:bold;letter-spacing:0.16px;left:829.6px;">Reports</div>
<div style="position:absolute;top:1917.2px;font-size:12px;line-height:12px;color:#10161f;white-space:nowrap;font-weight:bold;letter-spacing:-0.92px;left:914.8px;">Account</div>
<svg width="5468" height="2856" viewBox="0 0 1367 714"><path d="M141.6 473.2l3.3-3.2l3.3 3.2v3.8h-6.6z" stroke="#6f7f96" stroke-width=".6" fill="none"/><path d="M164 471.8h6v5.4h-6z" fill="#1c3557"/><path d="M165.2 470.2h3.6v1.6h-3.6z" fill="#1c3557"/><path d="M165.6 473.8h2.8v1.2h-2.8z" fill="#9db4d6"/><rect x="186" y="470.5" width="6" height="3.6" rx=".6" fill="#7f97b4" transform="rotate(22 189 473.8)"/><rect x="188" y="472.6" width="6" height="3.6" rx=".6" fill="#7f97b4" opacity=".85" transform="rotate(22 191 473.8)"/><circle cx="213.2" cy="471.2" r="1.3" fill="#1c3557"/><path d="M210.4 475.4l2.8-3.2l2.8 3.2z" fill="#1c3557"/><path d="M210.2 475.4h6v1.6h-6z" fill="none" stroke="#1c3557" stroke-width=".5"/><circle cx="234" cy="471.8" r="1.7" fill="#0d1626"/><path d="M230.9 477.1q0-3.8 3.1-3.8q3.1 0 3.1 3.8z" fill="#0d1626"/></svg></div></div><div style="position:absolute;left:0;top:0;width:114px;height:359px;background:rgba(43,125,233,0.30);"></div><div style="position:absolute;left:0;top:0;width:456px;height:1436px;transform:scale(0.25);transform-origin:0 0;"><div style="position:absolute;left:-532px;top:-508px;width:5468px;height:2856px;"><div style="position:absolute;left:652px;top:748.4px;width:250px;height:7.2px;background:rgb(211,105,86);border-radius:4px;"></div>
<svg width="5468" height="2856" viewBox="0 0 1367 714"><path d="M226.4 386.9h6v5h-6z" fill="rgb(208,62,90)"/><circle cx="233.2" cy="386.7" r="1.2" fill="rgb(208,62,90)"/><path d="M227.6 389.5h3.400" stroke="rgb(232,150,170)" stroke-width=".6"/></svg>
<svg width="5468" height="2856" viewBox="0 0 1367 714"><path d="M226.4 426.8h6v5h-6z" fill="rgb(208,62,90)"/><circle cx="233.2" cy="426.6" r="1.2" fill="rgb(208,62,90)"/><path d="M227.6 429.4h3.400" stroke="rgb(232,150,170)" stroke-width=".6"/></svg></div></div><div style="position:absolute;left:0;top:0;width:114px;height:359px;border:2px solid #669dea;"></div></div>
<div style="position:absolute;left:527px;top:128px;width:11px;height:16.8px;background:#2b7de9;border-radius:0 0 0 5px;"></div>
<div style="position:absolute;left:536px;top:127px;width:114px;height:391px;overflow:hidden;background:#fff;"><div style="position:absolute;left:0;top:0;width:456px;height:1564px;transform:scale(0.25);transform-origin:0 0;"><div style="position:absolute;left:-532px;top:-508px;width:5468px;height:2856px;"><div style="position:absolute;left:528px;top:504px;width:468px;height:1580px;background:#f6f9fd;"></div>
<div style="position:absolute;left:542.4px;top:524px;width:97.6px;height:88px;background:#fff;border-radius:8px;box-shadow:0 0 6px rgba(80,110,160,.16);"></div>
<div style="position:absolute;left:550.4px;top:532.8px;width:18.4px;height:18.4px;background:#ff3464;border-radius:50%;"></div>
<div style="position:absolute;top:534.8px;font-size:11.2px;line-height:11.2px;color:#555;white-space:nowrap;letter-spacing:2.16px;left:600px;">GBP</div>
<svg width="5468" height="2856" viewBox="0 0 1367 714"><rect x="137.70" y="147.35" width="1.5" height="1.5" fill="#05080f"/><rect x="139.80" y="147.35" width="1.5" height="1.5" fill="#05080f"/><rect x="141.90" y="147.35" width="1.5" height="1.5" fill="#05080f"/><rect x="144.00" y="147.35" width="1.5" height="1.5" fill="#05080f"/></svg>
<div style="position:absolute;top:600.2px;font-size:9.2px;line-height:9.2px;color:#111;white-space:nowrap;font-weight:bold;letter-spacing:-0.04px;left:550.8px;">British pound sterl</div>
<div style="position:absolute;left:655.2px;top:524px;width:97.6px;height:88px;background:#fff;border-radius:8px;box-shadow:0 0 6px rgba(80,110,160,.16);"></div>
<div style="position:absolute;left:663.2px;top:532.8px;width:18.4px;height:18.4px;background:linear-gradient(90deg,#189214 0 36%,#ff2300 36% 66%,#ffda00 66%);border-radius:50%;"></div>
<div style="position:absolute;top:534.8px;font-size:11.2px;line-height:11.2px;color:#555;white-space:nowrap;letter-spacing:3.12px;left:712.8px;">XAF</div>
<svg width="5468" height="2856" viewBox="0 0 1367 714"><rect x="165.90" y="147.35" width="1.5" height="1.5" fill="#05080f"/><rect x="168.00" y="147.35" width="1.5" height="1.5" fill="#05080f"/><rect x="170.10" y="147.35" width="1.5" height="1.5" fill="#05080f"/><rect x="172.20" y="147.35" width="1.5" height="1.5" fill="#05080f"/></svg>
<div style="position:absolute;top:600.2px;font-size:9.2px;line-height:9.2px;color:#111;white-space:nowrap;font-weight:bold;letter-spacing:0.16px;left:663.6px;">West African franc</div>
<div style="position:absolute;left:768px;top:524px;width:97.6px;height:88px;background:#fff;border-radius:8px;box-shadow:0 0 6px rgba(80,110,160,.16);"></div>
<div style="position:absolute;left:776px;top:532.8px;width:18.4px;height:18.4px;background:#ff2900;border-radius:50%;"></div>
<div style="position:absolute;top:534.8px;font-size:11.2px;line-height:11.2px;color:#555;white-space:nowrap;letter-spacing:2.16px;left:825.6px;">CNY</div>
<svg width="5468" height="2856" viewBox="0 0 1367 714"><rect x="194.10" y="147.35" width="1.5" height="1.5" fill="#05080f"/><rect x="196.20" y="147.35" width="1.5" height="1.5" fill="#05080f"/><rect x="198.30" y="147.35" width="1.5" height="1.5" fill="#05080f"/><rect x="200.40" y="147.35" width="1.5" height="1.5" fill="#05080f"/></svg>
<div style="position:absolute;top:600.2px;font-size:9.2px;line-height:9.2px;color:#111;white-space:nowrap;font-weight:bold;letter-spacing:0.28px;left:776.4px;">Chinese yu</div>
<div style="position:absolute;left:880.8px;top:524px;width:97.6px;height:88px;background:#fff;border-radius:8px;box-shadow:0 0 6px rgba(80,110,160,.16);"></div>
<div style="position:absolute;left:888.8px;top:532.8px;width:18.4px;height:18.4px;background:radial-gradient(circle,#fff 0 28%,#ff1d36 32%);border-radius:50%;"></div>
<div style="position:absolute;top:534.8px;font-size:11.2px;line-height:11.2px;color:#555;white-space:nowrap;letter-spacing:2.16px;left:938.4px;">HKD</div>
<svg width="5468" height="2856" viewBox="0 0 1367 714"><rect x="222.30" y="147.35" width="1.5" height="1.5" fill="#05080f"/><rect x="224.40" y="147.35" width="1.5" height="1.5" fill="#05080f"/><rect x="226.50" y="147.35" width="1.5" height="1.5" fill="#05080f"/><rect x="228.60" y="147.35" width="1.5" height="1.5" fill="#05080f"/></svg>
<div style="position:absolute;top:600.2px;font-size:9.2px;line-height:9.2px;color:#111;white-space:nowrap;font-weight:bold;letter-spacing:-0.04px;left:889.2px;">Hong Kong dollar</div>
<div style="position:absolute;left:544px;top:634.4px;width:437.6px;height:299.2px;background:#fff;border-radius:12px;box-shadow:0 0 8px rgba(80,110,160,.28);"></div>
<div style="position:absolute;top:651.2px;font-size:21.6px;line-height:21.6px;color:#1c2a40;white-space:nowrap;letter-spacing:0.28px;-webkit-text-stroke:0.88px #1c2a40;left:561.2px;">Earning Distribution</div>
<div style="position:absolute;top:710.6px;font-size:14px;line-height:14px;color:#232a36;white-space:nowrap;letter-spacing:1.6px;left:573.6px;">Referrals</div>
<div style="position:absolute;left:652px;top:713px;width:250px;height:6.8px;background:#e9f0fc;border-radius:4px;"></div>
<div style="position:absolute;left:652px;top:712.8px;width:100px;height:7.2px;background:#1366f3;border-radius:4px;"></div>
<div style="position:absolute;top:746.2px;font-size:14px;line-height:14px;color:#232a36;white-space:nowrap;letter-spacing:0.08px;left:598.4px;">$1.65P</div>
<div style="position:absolute;left:652px;top:748.6px;width:250px;height:6.8px;background:#e9f0fc;border-radius:4px;"></div>
<div style="position:absolute;left:652px;top:748.4px;width:250px;height:7.2px;background:#ff5609;border-radius:4px;"></div>
<div style="position:absolute;top:780.2px;font-size:14px;line-height:14px;color:#232a36;white-space:nowrap;letter-spacing:-1.08px;left:626.4px;">ZB</div>
<div style="position:absolute;left:652px;top:782.6px;width:250px;height:6.8px;background:#e9f0fc;border-radius:4px;"></div>
<div style="position:absolute;left:652px;top:782.4px;width:152px;height:7.2px;background:#9f38ff;border-radius:4px;"></div>
<div style="position:absolute;top:816.6px;font-size:14px;line-height:14px;color:#232a36;white-space:nowrap;letter-spacing:1.32px;left:561.2px;">E-Warranty</div>
<div style="position:absolute;left:652px;top:819px;width:250px;height:6.8px;background:#e9f0fc;border-radius:4px;"></div>
<div style="position:absolute;left:652px;top:818.8px;width:222px;height:7.2px;background:#079b1e;border-radius:4px;"></div>
<div style="position:absolute;top:872.2px;font-size:15.6px;line-height:15.6px;color:#000;white-space:nowrap;font-weight:bold;letter-spacing:0.8px;left:560px;">Profits of date</div>
<svg width="5468" height="2856" viewBox="0 0 1367 714"><circle cx="141.4" cy="225.7" r="1.1" fill="#0de83c"/></svg>
<div style="position:absolute;top:896.8px;font-size:14.4px;line-height:14.4px;color:#1c2430;white-space:nowrap;font-weight:bold;letter-spacing:1.12px;left:580px;">£1248.90</div>
<div style="position:absolute;top:872.2px;font-size:15.6px;line-height:15.6px;color:#000;white-space:nowrap;font-weight:bold;letter-spacing:0.72px;left:840px;">Invested Capital</div>
<svg width="5468" height="2856" viewBox="0 0 1367 714"><circle cx="211.6" cy="225.7" r="1.1" fill="#0de83c"/></svg>
<div style="position:absolute;top:896.8px;font-size:14.4px;line-height:14.4px;color:#1c2430;white-space:nowrap;font-weight:bold;letter-spacing:1.12px;left:860px;">£1248.90</div>
<div style="position:absolute;left:544px;top:942.8px;width:235.2px;height:146.4px;background:#fff;border-radius:12px;box-shadow:0 0 8px rgba(80,110,160,.28);"></div>
<div style="position:absolute;left:788px;top:942.8px;width:193.6px;height:146.4px;background:#fff;border-radius:12px;box-shadow:0 0 8px rgba(80,110,160,.28);"></div>
<div style="position:absolute;top:969px;font-size:18.8px;line-height:18.8px;color:#343c4a;white-space:nowrap;letter-spacing:0.04px;left:573.6px;">Cash Balance</div>
<div style="position:absolute;left:577.2px;top:1006.8px;font-size:31.6px;line-height:36px;white-space:nowrap;color:#3a4659;letter-spacing:1.36px;-webkit-text-stroke:1.12px #3a4659;">£1301<span style="color:#7f8a9b;-webkit-text-stroke:0">.</span><span style="color:#16ab34;-webkit-text-stroke:1.2px #16ab34;">23</span></div>
<div style="position:absolute;left:572.8px;top:1059.2px;width:144px;height:3.2px;background:#d4dbe8;"></div>
<div style="position:absolute;top:969px;font-size:18.8px;line-height:18.8px;color:#343c4a;white-space:nowrap;letter-spacing:0.68px;left:801.2px;">Money In</div>
<div style="position:absolute;top:1009.6px;font-size:28.8px;line-height:28.8px;color:#333f52;white-space:nowrap;letter-spacing:-1.48px;-webkit-text-stroke:0.6px #333f52;left:801.2px;">£210</div>
<div style="position:absolute;left:887.6px;top:1008.4px;width:80.8px;height:29.2px;background:#16ab34;border-radius:8px;"></div>
<div style="position:absolute;top:1018.4px;font-size:12px;line-height:12px;color:#fff;white-space:nowrap;font-weight:bold;letter-spacing:2.32px;left:898px;">+8.4%</div>
<svg width="5468" height="2856" viewBox="0 0 1367 714"><path d="M236.5 257.2l2.6-2.8m-1.6 0h1.6v1.6" stroke="#fff" stroke-width=".5" fill="none"/></svg>
<div style="position:absolute;left:544px;top:1098.4px;width:437.6px;height:331.2px;background:#fff;border-radius:12px;box-shadow:0 0 8px rgba(80,110,160,.28);"></div>
<div style="position:absolute;top:1118.6px;font-size:17.2px;line-height:17.2px;color:#111;white-space:nowrap;font-weight:bold;letter-spacing:-0.52px;left:563.6px;">Lastest Transaction</div>
<div style="position:absolute;left:564.8px;top:1169.2px;width:36px;height:33.6px;background:#f4ffed;border-radius:6.4px;"></div>
<div style="position:absolute;top:1173.2px;font-size:9.6px;line-height:9.6px;color:#000;white-space:nowrap;font-weight:bold;letter-spacing:0.24px;left:612.8px;">Return on investment</div>
<div style="position:absolute;top:1194.4px;font-size:8.8px;line-height:8.8px;color:#b9c2d0;white-space:nowrap;letter-spacing:0px;left:612.8px;">25 March 2021</div>
<div style="position:absolute;top:1178.8px;font-size:12px;line-height:12px;color:#0daf2b;white-space:nowrap;letter-spacing:-1.72px;-webkit-text-stroke:0.32px #0daf2b;left:925.6px;">+£148</div>
<div style="position:absolute;left:564.8px;top:1236px;width:36px;height:33.6px;background:#fff4f6;border-radius:6.4px;"></div>
<div style="position:absolute;top:1240px;font-size:9.6px;line-height:9.6px;color:#000;white-space:nowrap;font-weight:bold;letter-spacing:1.16px;left:612.8px;">Transfer</div>
<div style="position:absolute;top:1261.2px;font-size:8.8px;line-height:8.8px;color:#b9c2d0;white-space:nowrap;letter-spacing:0px;left:612.8px;">25 March 2021</div>
<div style="position:absolute;top:1245.6px;font-size:12px;line-height:12px;color:#ff1228;white-space:nowrap;letter-spacing:-0.96px;-webkit-text-stroke:0.32px #ff1228;left:925.6px;">-£148</div>
<div style="position:absolute;left:564.8px;top:1302.8px;width:36px;height:33.6px;background:#f4ffed;border-radius:6.4px;"></div>
<div style="position:absolute;top:1306.8px;font-size:9.6px;line-height:9.6px;color:#000;white-space:nowrap;font-weight:bold;letter-spacing:0.4px;left:612.8px;">Deposit from bank card</div>
<div style="position:absolute;top:1328px;font-size:8.8px;line-height:8.8px;color:#b9c2d0;white-space:nowrap;letter-spacing:0px;left:612.8px;">25 March 2021</div>
<div style="position:absolute;top:1312.4px;font-size:12px;line-height:12px;color:#0daf2b;white-space:nowrap;letter-spacing:-1.72px;-webkit-text-stroke:0.32px #0daf2b;left:925.6px;">+£148</div>
<div style="position:absolute;left:564.8px;top:1369.6px;width:36px;height:33.6px;background:#fff4f6;border-radius:6.4px;"></div>
<div style="position:absolute;top:1373.6px;font-size:9.6px;line-height:9.6px;color:#000;white-space:nowrap;font-weight:bold;letter-spacing:0.36px;left:612.8px;">Referral commission</div>
<div style="position:absolute;top:1394.8px;font-size:8.8px;line-height:8.8px;color:#b9c2d0;white-space:nowrap;letter-spacing:0px;left:612.8px;">25 March 2021</div>
<div style="position:absolute;top:1379.2px;font-size:12px;line-height:12px;color:#ff1228;white-space:nowrap;letter-spacing:-0.96px;-webkit-text-stroke:0.32px #ff1228;left:925.6px;">-£148</div>
<svg width="5468" height="2856" viewBox="0 0 1367 714"><path d="M144.2 298.1l3-3m-1.9 0h1.9v1.9" stroke="#0daf2b" stroke-width=".45" fill="none"/><path d="M144.2 311.8l3 3m-1.9 0h1.9v-1.9" stroke="#ff1228" stroke-width=".45" fill="none"/><path d="M144.2 331.5l3-3m-1.9 0h1.9v1.9" stroke="#0daf2b" stroke-width=".45" fill="none"/><path d="M144.2 345.2l3 3m-1.9 0h1.9v-1.9" stroke="#ff1228" stroke-width=".45" fill="none"/></svg>
<div style="position:absolute;left:544px;top:1436.8px;width:437.6px;height:424px;background:#fff;border-radius:12px;box-shadow:0 0 8px rgba(80,110,160,.28);"></div>
<div style="position:absolute;top:1480.6px;font-size:26px;line-height:26px;color:#4e5f7a;white-space:nowrap;letter-spacing:1.76px;-webkit-text-stroke:0.88px #4e5f7a;left:574.8px;">Notifications</div>
<div style="position:absolute;left:564.8px;top:1527.6px;width:378.8px;height:58.4px;background:#f6f8fc;border-radius:10px;"></div>
<div style="position:absolute;top:1535.6px;font-size:16.8px;line-height:16.8px;color:#151b26;white-space:nowrap;font-weight:bold;letter-spacing:0.08px;left:647.6px;">Notice to all investor</div>
<div style="position:absolute;top:1561px;font-size:13.2px;line-height:13.2px;color:#a7b2c3;white-space:nowrap;letter-spacing:-0.36px;left:648px;">29 March 2021</div>
<div style="position:absolute;left:564.8px;top:1607.4px;width:378.8px;height:58.4px;background:#f6f8fc;border-radius:10px;"></div>
<div style="position:absolute;top:1615.4px;font-size:16.8px;line-height:16.8px;color:#151b26;white-space:nowrap;font-weight:bold;letter-spacing:0.24px;left:647.6px;">Note from account manager</div>
<div style="position:absolute;top:1640.8px;font-size:13.2px;line-height:13.2px;color:#a7b2c3;white-space:nowrap;letter-spacing:-0.36px;left:648px;">29 March 2021</div>
<div style="position:absolute;left:564.8px;top:1687.2px;width:378.8px;height:58.4px;background:#f6f8fc;border-radius:10px;"></div>
<div style="position:absolute;top:1695.2px;font-size:16.8px;line-height:16.8px;color:#151b26;white-space:nowrap;font-weight:bold;letter-spacing:-0.08px;left:647.6px;">Pending withdrawal</div>
<div style="position:absolute;top:1720.6px;font-size:13.2px;line-height:13.2px;color:#a7b2c3;white-space:nowrap;letter-spacing:-0.36px;left:648px;">29 March 2021</div>
<div style="position:absolute;left:564.8px;top:1767px;width:378.8px;height:58.4px;background:#f6f8fc;border-radius:10px;"></div>
<div style="position:absolute;top:1775px;font-size:16.8px;line-height:16.8px;color:#151b26;white-space:nowrap;font-weight:bold;letter-spacing:0.44px;left:647.6px;">Welcome to 316</div>
<div style="position:absolute;top:1800.4px;font-size:13.2px;line-height:13.2px;color:#a7b2c3;white-space:nowrap;letter-spacing:0.28px;left:648px;">3 March 2021</div>
<svg width="5468" height="2856" viewBox="0 0 1367 714"><path d="M146.2 385.1h6.8v6.4h-2.4l-1 1.2l-1-1.2h-2.4z" stroke="#7787a0" stroke-width=".6" fill="none"/><path d="M149.6 386.6v2.4M149.6 389.6v.5" stroke="#7787a0" stroke-width=".6" fill="none"/><path d="M226.4 386.9h6v5h-6z" fill="#ff231d"/><circle cx="233.2" cy="386.7" r="1.2" fill="#ff231d"/><path d="M146.2 405.05h6.8v6.4h-2.4l-1 1.2l-1-1.2h-2.4z" stroke="#7787a0" stroke-width=".6" fill="none"/><path d="M147.8 407.15h3.6M147.8 408.65h2.4" stroke="#7787a0" stroke-width=".5" fill="none"/><path d="M226.4 406.85h6v5h-6z" fill="#96f192"/><path d="M229 406.45h4v2.4h-4z" fill="#e0ffcf"/><path d="M146.2 425h6.8v6.4h-2.4l-1 1.2l-1-1.2h-2.4z" stroke="#7787a0" stroke-width=".6" fill="none"/><path d="M149.6 426.5v2.4M149.6 429.5v.5" stroke="#7787a0" stroke-width=".6" fill="none"/><path d="M226.4 426.8h6v5h-6z" fill="#ff231d"/><circle cx="233.2" cy="426.6" r="1.2" fill="#ff231d"/><path d="M146.2 444.95h6.8v6.4h-2.4l-1 1.2l-1-1.2h-2.4z" stroke="#7787a0" stroke-width=".6" fill="none"/><path d="M147.8 447.05h3.6M147.8 448.55h2.4" stroke="#7787a0" stroke-width=".5" fill="none"/><path d="M226.4 446.75h6v5h-6z" fill="#96f192"/><path d="M229 446.35h4v2.4h-4z" fill="#e0ffcf"/></svg>
<div style="position:absolute;left:544px;top:1872px;width:437.6px;height:130px;background:#fff;border-radius:12px;box-shadow:0 0 8px rgba(80,110,160,.28);"></div>
<div style="position:absolute;left:567.6px;top:1888px;width:182.8px;height:39.2px;background:#48b675;border-radius:10.4px;"></div>
<div style="position:absolute;top:1900.4px;font-size:16.8px;line-height:16.8px;color:#fff;white-space:nowrap;font-weight:bold;letter-spacing:-0.16px;left:610.4px;">Send money</div>
<div style="position:absolute;left:772px;top:1888px;width:182.8px;height:39.2px;background:#48b675;border-radius:10.4px;"></div>
<div style="position:absolute;top:1900.4px;font-size:16.8px;line-height:16.8px;color:#fff;white-space:nowrap;font-weight:bold;letter-spacing:0.08px;left:785.6px;">Request a payment</div>
<div style="position:absolute;left:567.6px;top:1944px;width:182.8px;height:39.2px;background:#48b675;border-radius:10.4px;"></div>
<div style="position:absolute;top:1956.4px;font-size:16.8px;line-height:16.8px;color:#fff;white-space:nowrap;font-weight:bold;letter-spacing:0.04px;left:592px;">Withdraw money</div>
<div style="position:absolute;left:772px;top:1944px;width:182.8px;height:39.2px;background:#48b675;border-radius:10.4px;"></div>
<div style="position:absolute;top:1956.4px;font-size:16.8px;line-height:16.8px;color:#fff;white-space:nowrap;font-weight:bold;letter-spacing:-0.04px;left:787.2px;">Request a Payment</div>
<div style="position:absolute;left:536px;top:2003.6px;width:452px;height:74px;background:#fff;box-shadow:0 0 8px rgba(80,110,160,.3);"></div>
<div style="position:absolute;top:2052px;font-size:12px;line-height:12px;color:#10161f;white-space:nowrap;font-weight:bold;letter-spacing:-1.24px;left:564.8px;">Home</div>
<div style="position:absolute;top:2052px;font-size:12px;line-height:12px;color:#10161f;white-space:nowrap;font-weight:bold;letter-spacing:-0.4px;left:651.6px;">Wallet</div>
<div style="position:absolute;top:2052px;font-size:12px;line-height:12px;color:#10161f;white-space:nowrap;font-weight:bold;letter-spacing:-0.04px;left:742.8px;">Invest</div>
<div style="position:absolute;top:2052px;font-size:12px;line-height:12px;color:#10161f;white-space:nowrap;font-weight:bold;letter-spacing:0.16px;left:829.6px;">Reports</div>
<div style="position:absolute;top:2052px;font-size:12px;line-height:12px;color:#10161f;white-space:nowrap;font-weight:bold;letter-spacing:-0.92px;left:914.8px;">Account</div>
<svg width="5468" height="2856" viewBox="0 0 1367 714"><path d="M141.6 506.9l3.3-3.2l3.3 3.2v3.8h-6.6z" stroke="#6f7f96" stroke-width=".6" fill="none"/><path d="M164 505.5h6v5.4h-6z" fill="#1c3557"/><path d="M165.2 503.9h3.6v1.6h-3.6z" fill="#1c3557"/><path d="M165.6 507.5h2.8v1.2h-2.8z" fill="#9db4d6"/><rect x="186" y="504.2" width="6" height="3.6" rx=".6" fill="#38ba39" transform="rotate(22 189 507.5)"/><rect x="188" y="506.3" width="6" height="3.6" rx=".6" fill="#38ba39" opacity=".85" transform="rotate(22 191 507.5)"/><circle cx="213.2" cy="504.9" r="1.3" fill="#1c3557"/><path d="M210.4 509.1l2.8-3.2l2.8 3.2z" fill="#1c3557"/><path d="M210.2 509.1h6v1.6h-6z" fill="none" stroke="#1c3557" stroke-width=".5"/><circle cx="234" cy="505.5" r="1.7" fill="#0d1626"/><path d="M230.9 510.8q0-3.8 3.1-3.8q3.1 0 3.1 3.8z" fill="#0d1626"/></svg></div></div><div style="position:absolute;left:0;top:0;width:114px;height:391px;background:rgba(43,125,233,0.30);"></div><div style="position:absolute;left:0;top:0;width:456px;height:1564px;transform:scale(0.25);transform-origin:0 0;"><div style="position:absolute;left:-532px;top:-508px;width:5468px;height:2856px;"><div style="position:absolute;left:652px;top:748.4px;width:250px;height:7.2px;background:rgb(211,105,86);border-radius:4px;"></div>
<svg width="5468" height="2856" viewBox="0 0 1367 714"><path d="M226.4 386.9h6v5h-6z" fill="rgb(208,62,90)"/><circle cx="233.2" cy="386.7" r="1.2" fill="rgb(208,62,90)"/><path d="M227.6 389.5h3.400" stroke="rgb(232,150,170)" stroke-width=".6"/></svg>
<svg width="5468" height="2856" viewBox="0 0 1367 714"><path d="M226.4 426.8h6v5h-6z" fill="rgb(208,62,90)"/><circle cx="233.2" cy="426.6" r="1.2" fill="rgb(208,62,90)"/><path d="M227.6 429.4h3.400" stroke="rgb(232,150,170)" stroke-width=".6"/></svg></div></div><div style="position:absolute;left:0;top:0;width:114px;height:391px;border:2px solid #669dea;"></div></div>
<div style="position:absolute;left:733px;top:128px;width:11px;height:16.8px;background:#2b7de9;border-radius:0 0 0 5px;"></div>
<div style="position:absolute;left:742px;top:127px;width:114px;height:359px;overflow:hidden;background:#fff;"><div style="position:absolute;left:0;top:0;width:456px;height:1436px;transform:scale(0.25);transform-origin:0 0;"><div style="position:absolute;left:-2968px;top:-508px;width:5468px;height:2856px;"><div style="position:absolute;left:2960px;top:508px;width:472px;height:1444px;background:linear-gradient(180deg,#46b8b1 0%,#50b568 68%);"></div>
<div style="position:absolute;top:535.2px;font-size:21.6px;line-height:21.6px;color:#ffffff;white-space:nowrap;font-weight:bold;letter-spacing:-0.04px;left:3012.4px;">Please choose you wallet type from</div>
<div style="position:absolute;top:566.8px;font-size:21.6px;line-height:21.6px;color:#ffffff;white-space:nowrap;font-weight:bold;letter-spacing:-0.08px;left:2998.4px;">the list below or create a custom wallet</div>
<svg width="5468" height="2856" viewBox="0 0 1367 714"><rect x="760.4" y="179" width="40.2" height="65" rx="3" fill="#14523c"/><rect x="762" y="180.6" width="37" height="23.2" rx="1.5" fill="#cfffd9"/><rect x="773" y="179.4" width="15" height="2.4" rx="1.2" fill="#14523c"/><rect x="762" y="203.8" width="37" height="38" fill="#1b654d"/><rect x="775.2" y="186.6" width="13.6" height="17.2" rx="1" fill="#ff9203"/><rect x="776.6" y="188.4" width="10.8" height="3.6" rx=".8" fill="#ffffba"/><circle cx="779.6" cy="190.2" r=".9" fill="#14523c"/><circle cx="784.4" cy="190.2" r=".9" fill="#14523c"/><rect x="778.4" y="184.6" width="7" height="2.4" fill="#ff7600"/><path d="M777.4 195.4h9.2M777.4 198h9.2" stroke="#fd7300" stroke-width=".7"/><path d="M775.2 194l-6-6.4" stroke="#24813c" stroke-width="1.8" fill="none"/><path d="M788.8 196l5.4 3.6" stroke="#24813c" stroke-width="1.8" fill="none"/><path d="M767.4 186.4l1.800 1.400l1.800-2.600" stroke="#14523c" stroke-width=".9" fill="none"/><circle cx="795.6" cy="183" r="1" fill="#60da8f"/><rect x="755.5" y="206.7" width="35.3" height="11.3" rx="1.6" fill="#0d3725"/><circle cx="762" cy="212.3" r="4.3" fill="#99e8ac"/><circle cx="762" cy="213.2" r="2.700" fill="#ffa100"/><circle cx="762" cy="210.400" r="1.500" fill="#993d00"/><path d="M769.6 210.2h14.4M769.6 212.6h9.6M769.6 214.6h6.4" stroke="#ffffed" stroke-width=".9" fill="none"/><rect x="769" y="220" width="18" height="7" rx="1.2" fill="#134834"/><path d="M771.2 222.2h8M771.2 224.4h5.6" stroke="#e0fede" stroke-width=".8" fill="none"/><circle cx="792.7" cy="224" r="4" fill="#fffff9"/><circle cx="792.7" cy="223.2" r="1.7" fill="#270900"/><path d="M789.9 226.8q2.8-3.4 5.6 0z" fill="#ffa100"/><circle cx="767" cy="232.4" r="3.9" fill="#99e8ac"/><circle cx="767" cy="233.200" r="2.400" fill="#ffa100"/><rect x="773" y="230" width="17" height="6.8" rx="1" fill="#fffff3"/><path d="M775 232h9.6M775 234.4h6" stroke="#162e1d" stroke-width=".9" fill="none"/><path d="M822.2 206.2h14v7.4h-11l-1.6 2v-2h-1.4z" fill="#275f4a"/><path d="M824 208.6h10.4M824 211h10.4" stroke="#163d2b" stroke-width=".9" fill="none"/><path d="M800.4 222.6q-1.6-9.4 4.6-10.4q5.4.6 3.8 7.6q-1.2 3-3.4 2.6z" fill="#ff5106"/><circle cx="806.2" cy="216.6" r="2.2" fill="#ffda81"/><path d="M799.4 222.4q3.6-2.4 7.4-.6l5 2.6l-.8 2.4l-4.6-1.2l-.6 6.4h-7.4z" fill="#93b82b"/><path d="M812 224.4l3.2-1.4l.6 1.6l-3.2 1.6z" fill="#ffda81"/><path d="M814.2 219.4l8.6-1.2l-.8 5.4l-7 .6z" fill="#ffa100"/><path d="M798.2 232l9.6-6.4l4 1.6l-6.6 8.4l.4 8h-7.6z" fill="#e9ba4d"/><path d="M808 227.6l5.4 13.8l3.6 1.6v1h-6.2l-5.2-11.6z" fill="#382014"/><path d="M811.6 242.4h6v1.6h-6z" fill="#180000"/></svg>
<div style="position:absolute;left:3148.8px;top:1454px;width:97.6px;height:80px;background:#0c8d6d;border-radius:14px 14px 0 0;"></div>
<div style="position:absolute;left:2972.8px;top:1504.8px;width:449.6px;height:440px;background:#0c8d6d;border-radius:36px 36px 0 0;"></div>
<div style="position:absolute;top:1472.8px;font-size:44.8px;line-height:44.8px;color:#fff;white-space:nowrap;font-weight:bold;letter-spacing:0.24px;left:3160px;">316</div>
<div style="position:absolute;left:3004px;top:1536.4px;width:389.6px;height:40.4px;background:#54b06d;border-radius:6px;"></div>
<div style="position:absolute;top:1548px;font-size:20px;line-height:20px;color:#ffffff;white-space:nowrap;font-weight:bold;letter-spacing:0.36px;left:3018.4px;">Choose a option:</div>
<div style="position:absolute;left:3004px;top:1630.8px;width:389.6px;height:106px;background:#54b06d;border-radius:6px;"></div>
<div style="position:absolute;top:1649px;font-size:25.2px;line-height:25.2px;color:#ffffff;white-space:nowrap;font-weight:bold;letter-spacing:0.88px;left:3080px;">Currency wallet</div>
<div style="position:absolute;top:1699.4px;font-size:16.4px;line-height:16.4px;color:#ffffff;white-space:nowrap;font-weight:bold;letter-spacing:0.16px;left:3080px;">open a balance in your task currency</div>
<div style="position:absolute;left:3004px;top:1753.6px;width:389.6px;height:106.8px;background:#54b06d;border-radius:6px;"></div>
<div style="position:absolute;top:1767.8px;font-size:25.2px;line-height:25.2px;color:#ffffff;white-space:nowrap;font-weight:bold;letter-spacing:0.76px;left:3080px;">Custom wallet</div>
<div style="position:absolute;top:1816.2px;font-size:16.4px;line-height:16.4px;color:#ffffff;white-space:nowrap;font-weight:bold;letter-spacing:0.28px;left:3080px;">Side aside money for whenever you</div>
<svg width="5468" height="2856" viewBox="0 0 1367 714"><path d="M753.6 421.2l3-2.4v1.5h4.8v1.8h-4.8v1.5z" fill="#18da48"/><path d="M764.8 419.2l-3-2.2v1.3h-3v1.8h3v1.3z" fill="#2176ba"/><path d="M764.8 424.2l-3-2.2v1.3h-2v1.8h2v1.3z" fill="#27bdac"/><rect x="758.6" y="449.6" width="4.6" height="6.8" rx="1.2" fill="#5a9a83" stroke="#2f6f66" stroke-width=".5"/><rect x="759.1" y="448.2" width="3.6" height="1.5" fill="#9fc7b4"/><circle cx="760.9" cy="453.4" r="1.2" fill="#d8e9dd"/></svg></div></div><div style="position:absolute;left:0;top:0;width:114px;height:359px;background:rgba(43,125,233,0.30);"></div><div style="position:absolute;left:0;top:0;width:114px;height:359px;border:2px solid #669dea;"></div></div>
<div style="position:absolute;left:895px;top:128px;width:11px;height:16.8px;background:#2b7de9;border-radius:0 0 0 5px;"></div>
<div style="position:absolute;left:904px;top:127px;width:114px;height:359px;overflow:hidden;background:#fff;"><div style="position:absolute;left:0;top:0;width:456px;height:1436px;transform:scale(0.25);transform-origin:0 0;"><div style="position:absolute;left:-3616px;top:-508px;width:5468px;height:2856px;"><div style="position:absolute;left:3608px;top:508px;width:472px;height:1444px;background:linear-gradient(180deg,#46b8b1 0%,#50b568 68%);"></div>
<div style="position:absolute;top:534.6px;font-size:21.2px;line-height:21.2px;color:#ffffff;white-space:nowrap;font-weight:bold;letter-spacing:1.08px;left:3659.2px;">Choose a Currency of your wallet</div>
<div style="position:absolute;left:3725.6px;top:644.8px;width:318.8px;height:413.6px;background:#3eaf89;opacity:.55;"></div><div style="position:absolute;left:3725.6px;top:644.8px;width:318.8px;height:413.6px;border:3.6px solid #2f80ea;"></div>
<svg width="5468" height="2856" viewBox="0 0 1367 714"><path d="M969 181.6q0-2.6 2.6-2.6h30.4q2.6 0 2.6 2.6v60.8q0 2.6-2.6 2.6h-33z" fill="#10a959"/><path d="M968 183.4q0-2 2-2h27.4q2 0 2 2v57.6q0 2-2 2h-29.4z" fill="#befcbd"/><path d="M968 196l20-14.6h8l-28 21z" fill="#f7ffdc"/><path d="M968 208l31.4-22.4v6l-31.4 22.4z" fill="#e0ffce"/><circle cx="956.8" cy="173.4" r="7.6" fill="#1d6525"/><circle cx="956.8" cy="173.4" r="6" fill="none" stroke="#fdc628" stroke-width=".7"/><path d="M958.4 171q-3.2-1.4-3 .8q.4 1.6 1.6 2q1.6.8 1.2 2.2q-.6 1.6-3.2.4" stroke="#ffdd31" stroke-width="1" fill="none"/><path d="M947.6 202.4q-.6-6.4 5-6.6q5 .2 5 5.6q2 2.4 4 3l-1 1.6q-3.6-.6-5.6-3.400q-3 2.6-7.400-.2z" fill="#fffff0"/><circle cx="953.2" cy="200.8" r="2.3" fill="#ffd481"/><path d="M947.4 205.6q5.800-2.400 11.8 0l2.600 14.400l-.6 18.600h-16.200l-.8-18.600z" fill="#c4fc3c"/><path d="M949.4 238.6h2.4v9.600h-2.400zM955.4 238.6h2.400v9.600h-2.400z" fill="#ffd481"/><path d="M948.8 244.800h3.400v4.600h-3.400zM954.8 244.800h3.400v4.600h-3.400z" fill="#186824"/><path d="M947.6 249h5v1.500h-5zM954 249h5v1.500h-5z" fill="#a01207"/><circle cx="965.2" cy="197.8" r="2.600" fill="#ffc972"/><path d="M962.4 197q2.800-3.400 5.800-.4q-.4-3.200-3-3.200q-2.600.2-2.800 3.600z" fill="#fffff0"/><path d="M961 203.200q4.600-2 9.400-.2q6.400 3.200 8 11.600q-.6 7.400-7.600 11l-9.800.4z" fill="#184e28"/><path d="M961.4 224.600h12.800l-2.600 14l-.8 10.400h-3.400l-.8-13.600l-1.600 13.600h-3.400z" fill="#9c3709"/><path d="M960.600 249h4.600v1.600h-4.600zM967 249h4.600v1.600h-4.600z" fill="#a01207"/><path d="M957.800 214.800l5.600-1.800l.6 2l-5.600 2.200z" fill="#ffd481"/><circle cx="948.9" cy="212.7" r="6.4" fill="#1d6525"/><circle cx="948.9" cy="212.7" r="4.8" fill="none" stroke="#fdc628" stroke-width=".7"/><path d="M950.5 210.3q-3.2-1.4-3 .8q.4 1.6 1.6 2q1.6.8 1.2 2.2q-.6 1.6-3.2.4" stroke="#ffdd31" stroke-width="1" fill="none"/><circle cx="987.3" cy="221.7" r="7.6" fill="#1d6525"/><circle cx="987.3" cy="221.7" r="6" fill="none" stroke="#fdc628" stroke-width=".7"/><path d="M988.9 219.3q-3.2-1.4-3 .8q.4 1.6 1.6 2q1.6.8 1.2 2.2q-.6 1.6-3.2.4" stroke="#ffdd31" stroke-width="1" fill="none"/><ellipse cx="992.6" cy="250.8" rx="10.8" ry="3.4" fill="#165617"/><ellipse cx="992.6" cy="249.4" rx="10.8" ry="3.2" fill="#247931"/><ellipse cx="992.6" cy="247.4" rx="10.8" ry="3.4" fill="#165617"/><ellipse cx="992.6" cy="246" rx="10.8" ry="3.2" fill="#247931"/><ellipse cx="992.6" cy="244" rx="10.8" ry="3.4" fill="#165617"/><ellipse cx="992.6" cy="242.6" rx="10.8" ry="3.2" fill="#247931"/><ellipse cx="992.6" cy="240.6" rx="10.8" ry="3.4" fill="#165617"/><ellipse cx="992.6" cy="239.2" rx="10.8" ry="3.2" fill="#247931"/><ellipse cx="992.6" cy="237.2" rx="10.8" ry="3.4" fill="#165617"/><ellipse cx="992.6" cy="235.8" rx="10.8" ry="3.2" fill="#247931"/><ellipse cx="992.6" cy="235.800" rx="8.400" ry="2.200" fill="none" stroke="#ffce2b" stroke-width=".5"/><path d="M990 236.400q2.600 1 5.200-.8" stroke="#ffce2b" stroke-width=".8" fill="none"/><ellipse cx="975.2" cy="257.600" rx="8.200" ry="3.600" fill="#165617"/><ellipse cx="975.2" cy="256.700" rx="8.200" ry="3.400" fill="#247931"/><ellipse cx="975.2" cy="256.700" rx="6.200" ry="2.200" fill="none" stroke="#ffce2b" stroke-width=".5"/><path d="M972.400 257.200q2.800 1 5.600-.8" stroke="#ffce2b" stroke-width=".8" fill="none"/></svg>
<div style="position:absolute;left:3797.2px;top:1300.4px;width:95.6px;height:80px;background:#0c8d6d;border-radius:14px 14px 0 0;"></div>
<div style="position:absolute;left:3620.8px;top:1348.8px;width:445.6px;height:600px;background:#0c8d6d;border-radius:36px 36px 0 0;"></div>
<div style="position:absolute;top:1314.4px;font-size:42.4px;line-height:42.4px;color:#fff;white-space:nowrap;font-weight:bold;letter-spacing:2.44px;left:3807.2px;">316</div>
<div style="position:absolute;top:1367px;font-size:14.8px;line-height:14.8px;color:#ffffff;white-space:nowrap;font-weight:bold;letter-spacing:-0.08px;left:3652.8px;">Select currency</div>
<div style="position:absolute;left:3650.8px;top:1413.6px;width:394.4px;height:48.4px;background:#54b06d;border-radius:8.8px;"></div>
<div style="position:absolute;top:1430.6px;font-size:17.2px;line-height:17.2px;color:#ffffff;white-space:nowrap;font-weight:bold;letter-spacing:0.6px;left:3708.4px;">West African</div>
<div style="position:absolute;left:3650.8px;top:1476.76px;width:394.4px;height:48.4px;background:#54b06d;border-radius:8.8px;"></div>
<div style="position:absolute;top:1493.76px;font-size:17.2px;line-height:17.2px;color:#ffffff;white-space:nowrap;font-weight:bold;letter-spacing:-0.24px;left:3708.4px;">Euro</div>
<div style="position:absolute;left:3650.8px;top:1539.92px;width:394.4px;height:48.4px;background:#54b06d;border-radius:8.8px;"></div>
<div style="position:absolute;top:1556.92px;font-size:17.2px;line-height:17.2px;color:#ffffff;white-space:nowrap;font-weight:bold;letter-spacing:-0.24px;left:3708.4px;">Euro</div>
<div style="position:absolute;left:3650.8px;top:1603.08px;width:394.4px;height:48.4px;background:#54b06d;border-radius:8.8px;"></div>
<div style="position:absolute;top:1620.08px;font-size:17.2px;line-height:17.2px;color:#ffffff;white-space:nowrap;font-weight:bold;letter-spacing:0.36px;left:3708.4px;">British pound</div>
<div style="position:absolute;left:3650.8px;top:1666.24px;width:394.4px;height:48.4px;background:#54b06d;border-radius:8.8px;"></div>
<div style="position:absolute;top:1683.24px;font-size:17.2px;line-height:17.2px;color:#ffffff;white-space:nowrap;font-weight:bold;letter-spacing:0.64px;left:3708.4px;">United state dollar</div>
<div style="position:absolute;left:3650.8px;top:1729.4px;width:394.4px;height:48.4px;background:#54b06d;border-radius:8.8px;"></div>
<div style="position:absolute;top:1746.4px;font-size:17.2px;line-height:17.2px;color:#ffffff;white-space:nowrap;font-weight:bold;letter-spacing:0.36px;left:3708.4px;">Chinese yuan</div>
<div style="position:absolute;left:3650.8px;top:1792.56px;width:394.4px;height:48.4px;background:#54b06d;border-radius:8.8px;"></div>
<div style="position:absolute;top:1809.56px;font-size:17.2px;line-height:17.2px;color:#ffffff;white-space:nowrap;font-weight:bold;letter-spacing:0.4px;left:3708.4px;">Australian dollar</div>
<div style="position:absolute;left:3650.8px;top:1855.72px;width:394.4px;height:48.4px;background:#54b06d;border-radius:8.8px;"></div>
<div style="position:absolute;top:1872.72px;font-size:17.2px;line-height:17.2px;color:#ffffff;white-space:nowrap;font-weight:bold;letter-spacing:0.16px;left:3708.4px;">Hong Kong dollar</div>
<svg width="5468" height="2856" viewBox="0 0 1367 714"><clipPath id="fc0"><circle cx="920.8" cy="359.45" r="3.5"/></clipPath><g clip-path="url(#fc0)"><rect x="917.3" y="355.95" width="2.6" height="7" fill="#ff1d1a"/><rect x="919.9" y="355.95" width="4.4" height="7" fill="#ffce00"/></g><clipPath id="fc1"><circle cx="920.8" cy="375.24" r="3.5"/></clipPath><g clip-path="url(#fc1)"><rect x="917.3" y="371.74" width="7" height="7" fill="#213aae"/></g><clipPath id="fc2"><circle cx="920.8" cy="391.03" r="3.5"/></clipPath><g clip-path="url(#fc2)"><rect x="917.3" y="387.53" width="7" height="7" fill="#213aae"/></g><clipPath id="fc3"><circle cx="920.8" cy="406.82" r="3.5"/></clipPath><g clip-path="url(#fc3)"><rect x="917.3" y="403.32" width="7" height="7" fill="#2d3f9e"/><path d="M917.3 406.82h7M920.8 403.32v7" stroke="#f2f2f8" stroke-width="2"/><path d="M917.3 406.82h7M920.8 403.32v7" stroke="#ff1a14" stroke-width="1"/></g><clipPath id="fc4"><circle cx="920.8" cy="422.61" r="3.5"/></clipPath><g clip-path="url(#fc4)"><rect x="917.3" y="419.11" width="7" height="7" fill="#f4eef4"/><path d="M917.3 420.11h7M917.3 422.51h7M917.3 424.91h7" stroke="#e8404a" stroke-width=".9"/><rect x="917.3" y="419.11" width="3.4" height="3.2" fill="#3b4aa8"/></g><clipPath id="fc5"><circle cx="920.8" cy="438.4" r="3.5"/></clipPath><g clip-path="url(#fc5)"><rect x="917.3" y="434.9" width="7" height="7" fill="#ff2e0e"/></g><clipPath id="fc6"><circle cx="920.8" cy="454.19" r="3.5"/></clipPath><g clip-path="url(#fc6)"><rect x="917.3" y="450.69" width="7" height="7" fill="#1f2f8a"/><rect x="917.3" y="450.69" width="3.4" height="3" fill="#f04060"/><circle cx="922.2" cy="455.39" r=".6" fill="#fff"/></g><clipPath id="fc7"><circle cx="920.8" cy="469.98" r="3.5"/></clipPath><g clip-path="url(#fc7)"><rect x="917.3" y="466.48" width="7" height="7" fill="#f23a55"/><circle cx="920.8" cy="469.98" r="1.5" fill="#fff"/></g></svg></div></div><div style="position:absolute;left:0;top:0;width:114px;height:359px;background:rgba(43,125,233,0.30);"></div><div style="position:absolute;left:0;top:0;width:114px;height:359px;border:2px solid #669dea;"></div></div>
<div style="position:absolute;left:1118px;top:128px;width:11px;height:16.8px;background:#c6c6c6;border-radius:0 0 0 5px;"></div>
<div style="position:absolute;left:1127px;top:127px;width:114px;height:359px;overflow:hidden;background:#fff;"><div style="position:absolute;left:0;top:0;width:456px;height:1436px;transform:scale(0.25);transform-origin:0 0;"><div style="position:absolute;left:-4508px;top:-508px;width:5468px;height:2856px;"><div style="position:absolute;left:4500px;top:508px;width:472px;height:1444px;background:linear-gradient(180deg,#46b8b1 0%,#50b568 68%);"></div>
<div style="position:absolute;left:4623.2px;top:657.2px;font-size:52px;line-height:60px;font-weight:bold;color:#fff;white-space:nowrap;transform-origin:0 50%;transform:scaleX(1.2);">1600.60</div>
<div style="position:absolute;top:716.4px;font-size:20px;line-height:20px;color:#fff;white-space:nowrap;font-weight:bold;letter-spacing:0.36px;left:4646px;">Your total balance</div>
<svg width="5468" height="2856" viewBox="0 0 1367 714"><path d="M1137.6 136.800l-4.200 2.500l4.200 2.500" stroke="#e6eefb" stroke-width=".9" fill="none"/><clipPath id="ukf"><rect x="1226.900" y="136.600" width="7.200" height="6.800" rx="1.200"/></clipPath><g clip-path="url(#ukf)"><rect x="1226" y="136" width="9" height="8" fill="#3a3f9e"/><path d="M1226.900 136.600l7.200 6.800M1234.100 136.600l-7.200 6.800" stroke="#e8e8f4" stroke-width="1.200"/><path d="M1226 140h9M1230.500 136v8" stroke="#f0f0f8" stroke-width="2.200"/><path d="M1226 140h9M1230.500 136v8" stroke="#d23b6a" stroke-width="1.100"/></g></svg>
<div style="position:absolute;left:4523.2px;top:1265.6px;width:95.6px;height:40px;background:#49bdb1;border-radius:11.2px 11.2px 0 0;box-shadow:0 0 6px rgba(10,80,100,.5);"></div>
<div style="position:absolute;top:1272.8px;font-size:20.8px;line-height:20.8px;color:#fff;white-space:nowrap;font-weight:bold;letter-spacing:0.2px;left:4549.6px;">Add</div>
<div style="position:absolute;left:4633.6px;top:1265.6px;width:96px;height:40px;background:#49bdb1;border-radius:11.2px 11.2px 0 0;box-shadow:0 0 6px rgba(10,80,100,.5);"></div>
<div style="position:absolute;top:1272.8px;font-size:20.8px;line-height:20.8px;color:#fff;white-space:nowrap;font-weight:bold;letter-spacing:0.36px;left:4641.6px;">Convert</div>
<div style="position:absolute;left:4743.6px;top:1265.6px;width:92.4px;height:40px;background:#49bdb1;border-radius:11.2px 11.2px 0 0;box-shadow:0 0 6px rgba(10,80,100,.5);"></div>
<div style="position:absolute;top:1272.8px;font-size:20.8px;line-height:20.8px;color:#fff;white-space:nowrap;font-weight:bold;letter-spacing:-0.16px;left:4765.6px;">Send</div>
<div style="position:absolute;left:4852px;top:1265.6px;width:96.8px;height:40px;background:#49bdb1;border-radius:11.2px 11.2px 0 0;box-shadow:0 0 6px rgba(10,80,100,.5);"></div>
<div style="position:absolute;top:1272.8px;font-size:20.8px;line-height:20.8px;color:#fff;white-space:nowrap;font-weight:bold;letter-spacing:1px;left:4857.6px;">Request</div>
<div style="position:absolute;left:4508px;top:1298px;width:452px;height:648px;background:#fff;border-radius:16px 16px 0 0;"></div>
<div style="position:absolute;top:1327px;font-size:21.2px;line-height:21.2px;color:#0d1420;white-space:nowrap;font-weight:bold;letter-spacing:0.36px;left:4546.4px;">Recent transaction</div>
<div style="position:absolute;left:4542.4px;top:1387.6px;width:95.6px;height:82.8px;background:#e0dbd8;border-radius:22px;box-shadow:0 0 6.4px #e0dbd8;"></div>
<div style="position:absolute;top:1396.4px;font-size:21.6px;line-height:21.6px;color:#0d1420;white-space:nowrap;font-weight:bold;letter-spacing:-0.36px;left:4660.4px;">City Bank</div>
<div style="position:absolute;top:1430.4px;font-size:12px;line-height:12px;color:#6f7a8c;white-space:nowrap;letter-spacing:1px;left:4660.4px;">10:45 PM</div>
<div style="position:absolute;left:4542.4px;top:1532px;width:95.6px;height:82.8px;background:#e0dbd8;border-radius:22px;box-shadow:0 0 6.4px #e0dbd8;"></div>
<div style="position:absolute;top:1540.8px;font-size:21.6px;line-height:21.6px;color:#0d1420;white-space:nowrap;font-weight:bold;letter-spacing:-0.2px;left:4660.4px;">Shopify</div>
<div style="position:absolute;top:1574.8px;font-size:12px;line-height:12px;color:#6f7a8c;white-space:nowrap;letter-spacing:1px;left:4660.4px;">10:45 PM</div>
<div style="position:absolute;left:4542.4px;top:1676.4px;width:95.6px;height:82.8px;background:#e0dbd8;border-radius:22px;box-shadow:0 0 6.4px #e0dbd8;"></div>
<div style="position:absolute;top:1685.2px;font-size:21.6px;line-height:21.6px;color:#0d1420;white-space:nowrap;font-weight:bold;letter-spacing:-0.52px;left:4660.4px;">Ab Bank</div>
<div style="position:absolute;top:1719.2px;font-size:12px;line-height:12px;color:#6f7a8c;white-space:nowrap;letter-spacing:1px;left:4660.4px;">10:45 PM</div>
<div style="position:absolute;left:4542.4px;top:1820.8px;width:95.6px;height:82.8px;background:#e0dbd8;border-radius:22px;box-shadow:0 0 6.4px #e0dbd8;"></div>
<div style="position:absolute;top:1829.6px;font-size:21.6px;line-height:21.6px;color:#0d1420;white-space:nowrap;font-weight:bold;letter-spacing:-0.32px;left:4660.4px;">Bank Asia</div>
<div style="position:absolute;top:1863.6px;font-size:12px;line-height:12px;color:#6f7a8c;white-space:nowrap;letter-spacing:1px;left:4660.4px;">10:45 PM</div>
<svg width="5468" height="2856" viewBox="0 0 1367 714"><path d="M1147.5 353.4v7M1144.7 357.8l2.800 2.800l2.800-2.800" stroke="#ff444f" stroke-width="1.300" fill="none"/><path d="M1147.5 397.1v-7M1144.7 392.7l2.800-2.800l2.800 2.800" stroke="#14ba35" stroke-width="1.300" fill="none"/><path d="M1147.5 425.6v7M1144.7 430l2.800 2.800l2.800-2.800" stroke="#ff444f" stroke-width="1.300" fill="none"/><path d="M1147.5 469.3v-7M1144.7 464.9l2.800-2.800l2.800 2.800" stroke="#14ba35" stroke-width="1.300" fill="none"/></svg></div></div><div style="position:absolute;left:0;top:0;width:114px;height:359px;background:rgba(43,125,233,0.30);"></div><div style="position:absolute;left:0;top:0;width:114px;height:359px;border:2px solid #669dea;"></div></div>
<svg width="1367" height="714" viewBox="0 0 1367 714" style="z-index:50">
<path d="M256.5 143C320.5 143 264.3 306.3 328.3 306.3" stroke="#666666" stroke-width="2.05" fill="none"/>
<path d="M256.5 143h-3" stroke="#666666" stroke-width="2.05"/>
<path d="M328.3 306.3h3" stroke="#666666" stroke-width="2.05"/>
<path d="M253.3 163.2C317.3 163.2 264.3 306.3 328.3 306.3" stroke="#666666" stroke-width="2.05" fill="none"/>
<path d="M253.3 163.2h-3" stroke="#666666" stroke-width="2.05"/>
<path d="M328.3 306.3h3" stroke="#666666" stroke-width="2.05"/>
<path d="M409 143C597 143 534.6 306.4 730.6 306.4" stroke="#666666" stroke-width="2.05" fill="none"/>
<path d="M409 143h-3" stroke="#666666" stroke-width="2.05"/>
<path d="M730.6 306.4h3" stroke="#666666" stroke-width="2.05"/>
<path d="M208.5 476C416.5 476 320.8 322.7 524.8 322.7" stroke="#666666" stroke-width="2.05" fill="none"/>
<path d="M208.5 476h-3" stroke="#666666" stroke-width="2.05"/>
<path d="M524.8 322.7h3" stroke="#666666" stroke-width="2.05"/>
<path d="M414.5 476C498.5 476 440.8 322.7 524.8 322.7" stroke="#666666" stroke-width="2.05" fill="none"/>
<path d="M414.5 476h-3" stroke="#666666" stroke-width="2.05"/>
<path d="M524.8 322.7h3" stroke="#666666" stroke-width="2.05"/>
<path d="M433.4 164.5C325.4 164.5 370.8 306.2 258.8 306.2" stroke="#666666" stroke-width="2.05" fill="none"/>
<path d="M433.4 164.5h3" stroke="#666666" stroke-width="2.05"/>
<path d="M258.8 306.2h-3" stroke="#666666" stroke-width="2.05"/>
<path d="M333.5 476C273.5 476 326.8 306.2 258.8 306.2" stroke="#666666" stroke-width="2.05" fill="none"/>
<path d="M333.5 476h3" stroke="#666666" stroke-width="2.05"/>
<path d="M258.8 306.2h-3" stroke="#666666" stroke-width="2.05"/>
<path d="M530.5 509.5C382.5 509.5 406.8 306.2 258.8 306.2" stroke="#666666" stroke-width="2.05" fill="none"/>
<path d="M530.5 509.5h3" stroke="#666666" stroke-width="2.05"/>
<path d="M258.8 306.2h-3" stroke="#666666" stroke-width="2.05"/>
<path d="M861.2 420.7C889.2 420.7 867 306.3 893 306.3" stroke="#666666" stroke-width="2.05" fill="none"/>
<path d="M861.2 420.7h-3" stroke="#666666" stroke-width="2.05"/>
<path d="M893 306.3h3" stroke="#666666" stroke-width="2.05"/>
<path d="M1023.6 359.45C1093.6 359.45 1043 306.6 1116 306.6" stroke="#666666" stroke-width="2.05" fill="none"/>
<path d="M1023.6 359.45h-3" stroke="#666666" stroke-width="2.05"/>
<path d="M1116 306.6h3" stroke="#666666" stroke-width="2.05"/>
<path d="M1011.2 352.85h5.8a6.6 6.6 0 0 1 0 13.2h-5.8z" fill="#666666"/>
<path d="M1023.6 375.24C1095.03 375.24 1041.57 306.6 1116 306.6" stroke="#666666" stroke-width="2.05" fill="none"/>
<path d="M1023.6 375.24h-3" stroke="#666666" stroke-width="2.05"/>
<path d="M1116 306.6h3" stroke="#666666" stroke-width="2.05"/>
<path d="M1011.2 368.64h5.8a6.6 6.6 0 0 1 0 13.2h-5.8z" fill="#666666"/>
<path d="M1023.6 391.03C1096.46 391.03 1040.14 306.6 1116 306.6" stroke="#666666" stroke-width="2.05" fill="none"/>
<path d="M1023.6 391.03h-3" stroke="#666666" stroke-width="2.05"/>
<path d="M1116 306.6h3" stroke="#666666" stroke-width="2.05"/>
<path d="M1011.2 384.43h5.8a6.6 6.6 0 0 1 0 13.2h-5.8z" fill="#666666"/>
<path d="M1023.6 406.82C1097.89 406.82 1038.71 306.6 1116 306.6" stroke="#666666" stroke-width="2.05" fill="none"/>
<path d="M1023.6 406.82h-3" stroke="#666666" stroke-width="2.05"/>
<path d="M1116 306.6h3" stroke="#666666" stroke-width="2.05"/>
<path d="M1011.2 400.22h5.8a6.6 6.6 0 0 1 0 13.2h-5.8z" fill="#666666"/>
<path d="M1023.6 422.61C1099.31 422.61 1037.29 306.6 1116 306.6" stroke="#666666" stroke-width="2.05" fill="none"/>
<path d="M1023.6 422.61h-3" stroke="#666666" stroke-width="2.05"/>
<path d="M1116 306.6h3" stroke="#666666" stroke-width="2.05"/>
<path d="M1011.2 416.01h5.8a6.6 6.6 0 0 1 0 13.2h-5.8z" fill="#666666"/>
<path d="M1023.6 438.4C1100.74 438.4 1035.86 306.6 1116 306.6" stroke="#666666" stroke-width="2.05" fill="none"/>
<path d="M1023.6 438.4h-3" stroke="#666666" stroke-width="2.05"/>
<path d="M1116 306.6h3" stroke="#666666" stroke-width="2.05"/>
<path d="M1011.2 431.8h5.8a6.6 6.6 0 0 1 0 13.2h-5.8z" fill="#666666"/>
<path d="M1023.6 454.19C1102.17 454.19 1034.43 306.6 1116 306.6" stroke="#666666" stroke-width="2.05" fill="none"/>
<path d="M1023.6 454.19h-3" stroke="#666666" stroke-width="2.05"/>
<path d="M1116 306.6h3" stroke="#666666" stroke-width="2.05"/>
<path d="M1011.2 447.59h5.8a6.6 6.6 0 0 1 0 13.2h-5.8z" fill="#666666"/>
<path d="M1023.6 469.98C1103.6 469.98 1033 306.6 1116 306.6" stroke="#666666" stroke-width="2.05" fill="none"/>
<path d="M1023.6 469.98h-3" stroke="#666666" stroke-width="2.05"/>
<path d="M1116 306.6h3" stroke="#666666" stroke-width="2.05"/>
<path d="M1011.2 463.38h5.8a6.6 6.6 0 0 1 0 13.2h-5.8z" fill="#666666"/>
<path d="M244 136.2h5.7a6.8 6.8 0 0 1 0 13.6h-5.7z" fill="#666666"/>
<path d="M241 156.4h5.5a6.8 6.8 0 0 1 0 13.6h-5.5z" fill="#666666"/>
<path d="M196 469.2h5.7a6.8 6.8 0 0 1 0 13.6h-5.7z" fill="#666666"/>
<path d="M396.2 136.2h6a6.8 6.8 0 0 1 0 13.6h-6z" fill="#666666"/>
<path d="M446 157.7h-5.8a6.8 6.8 0 0 0 0 13.6h5.8z" fill="#666666"/>
<path d="M346.3 469.2h-6a6.8 6.8 0 0 0 0 13.6h6z" fill="#666666"/>
<path d="M401.7 469.2h6a6.8 6.8 0 0 1 0 13.6h-6z" fill="#666666"/>
<path d="M542.8 502.7h-5.5a6.8 6.8 0 0 0 0 13.6h5.5z" fill="#666666"/>
<path d="M848.6 413.9h5.8a6.8 6.8 0 0 1 0 13.6h-5.8z" fill="#666666"/>
<path d="M246.3 299.4h5.7a6.8 6.8 0 0 1 0 13.6h-5.7z" fill="#666666"/>
<path d="M253.2 302.7l-3.5 3.5l3.5 3.5" stroke="#fff" stroke-width="1.75" fill="none" stroke-linecap="round" stroke-linejoin="miter"/>
<path d="M340.6 299.5h-5.5a6.8 6.8 0 0 0 0 13.6h5.5z" fill="#666666"/>
<path d="M333.6 302.8l3.5 3.5l-3.5 3.5" stroke="#fff" stroke-width="1.75" fill="none" stroke-linecap="round" stroke-linejoin="miter"/>
<path d="M537.2 315.9h-5.6a6.8 6.8 0 0 0 0 13.6h5.6z" fill="#666666"/>
<path d="M530.1 319.2l3.5 3.5l-3.5 3.5" stroke="#fff" stroke-width="1.75" fill="none" stroke-linecap="round" stroke-linejoin="miter"/>
<path d="M743 299.6h-5.6a6.8 6.8 0 0 0 0 13.6h5.6z" fill="#666666"/>
<path d="M735.9 302.9l3.5 3.5l-3.5 3.5" stroke="#fff" stroke-width="1.75" fill="none" stroke-linecap="round" stroke-linejoin="miter"/>
<path d="M905.3 299.5h-5.5a6.8 6.8 0 0 0 0 13.6h5.5z" fill="#666666"/>
<path d="M898.3 302.8l3.5 3.5l-3.5 3.5" stroke="#fff" stroke-width="1.75" fill="none" stroke-linecap="round" stroke-linejoin="miter"/>
<path d="M1128.2 299.8h-5.4a6.8 6.8 0 0 0 0 13.6h5.4z" fill="#666666"/>
<path d="M1121.3 303.1l3.5 3.5l-3.5 3.5" stroke="#fff" stroke-width="1.75" fill="none" stroke-linecap="round" stroke-linejoin="miter"/>
</svg>
</body></html>
